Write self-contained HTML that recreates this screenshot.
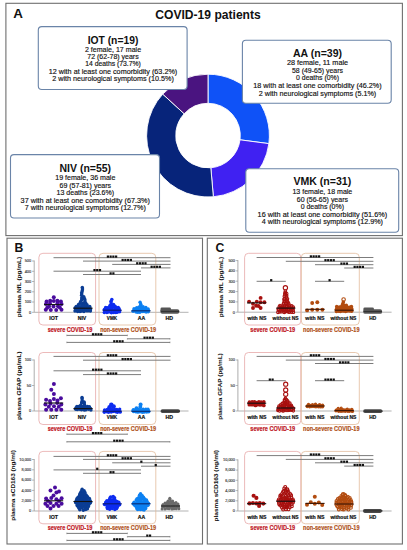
<!DOCTYPE html>
<html><head><meta charset="utf-8"><style>
html,body{margin:0;padding:0;background:#fff;}
svg{display:block;font-family:"Liberation Sans", sans-serif;}
</style></head><body>
<svg width="407" height="550" viewBox="0 0 407 550">
<rect width="407" height="550" fill="#fff"/>
<rect x="5.9" y="3.3" width="396.5" height="232.3" rx="0" fill="none" stroke="#6f6f6f" stroke-width="1.1"/>
<rect x="7" y="238.2" width="195.5" height="305.8" rx="0" fill="none" stroke="#6f6f6f" stroke-width="1.1"/>
<rect x="207.3" y="238.2" width="195.1" height="305.8" rx="0" fill="none" stroke="#6f6f6f" stroke-width="1.1"/>
<text x="13.2" y="18.1" font-size="13.4" font-weight="bold" fill="#111" text-anchor="start">A</text>
<text x="14.5" y="251.6" font-size="12.2" font-weight="bold" fill="#111" text-anchor="start">B</text>
<text x="215.6" y="251.8" font-size="12.2" font-weight="bold" fill="#111" text-anchor="start">C</text>
<path d="M208,74.2 A61.4,61.4 0 0 1 268.87,143.61 L240.02,139.82 A32.3,32.3 0 0 0 208,103.3 Z" fill="#0f52f7" stroke="#fff" stroke-width="0.9"/>
<path d="M268.87,143.61 A61.4,61.4 0 0 1 213.35,196.77 L210.82,167.78 A32.3,32.3 0 0 0 240.02,139.82 Z" fill="#4021f2" stroke="#fff" stroke-width="0.9"/>
<path d="M213.35,196.77 A61.4,61.4 0 0 1 162.73,94.12 L184.19,113.78 A32.3,32.3 0 0 0 210.82,167.78 Z" fill="#07247a" stroke="#fff" stroke-width="0.9"/>
<path d="M162.73,94.12 A61.4,61.4 0 0 1 208,74.2 L208,103.3 A32.3,32.3 0 0 0 184.19,113.78 Z" fill="#4a1480" stroke="#fff" stroke-width="0.9"/>
<text x="208" y="19.4" font-size="12.3" font-weight="bold" fill="#111" text-anchor="middle" textLength="105.5" lengthAdjust="spacingAndGlyphs">COVID-19 patients</text>
<rect x="38.3" y="26.6" width="148.8" height="62.9" rx="3.5" fill="#fff" stroke="#6a84a8" stroke-width="1.1"/>
<text x="113" y="43.8" font-size="10" font-weight="bold" fill="#111" text-anchor="middle" textLength="50.7" lengthAdjust="spacingAndGlyphs">IOT (n=19)</text>
<text x="113" y="51.5" font-size="8.1" font-weight="normal" fill="#111" text-anchor="middle" textLength="56.2" lengthAdjust="spacingAndGlyphs" stroke="#111" stroke-width="0.17">2 female, 17 male</text>
<text x="113" y="58.9" font-size="8.1" font-weight="normal" fill="#111" text-anchor="middle" textLength="51.4" lengthAdjust="spacingAndGlyphs" stroke="#111" stroke-width="0.17">72 (62-78) years</text>
<text x="113" y="65.9" font-size="8.1" font-weight="normal" fill="#111" text-anchor="middle" textLength="55.6" lengthAdjust="spacingAndGlyphs" stroke="#111" stroke-width="0.17">14 deaths (73.7%)</text>
<text x="113" y="73.6" font-size="8.1" font-weight="normal" fill="#111" text-anchor="middle" textLength="128.5" lengthAdjust="spacingAndGlyphs" stroke="#111" stroke-width="0.17">12 with at least one comorbidity (63.2%)</text>
<text x="113" y="81" font-size="8.1" font-weight="normal" fill="#111" text-anchor="middle" textLength="121.6" lengthAdjust="spacingAndGlyphs" stroke="#111" stroke-width="0.17">2 with neurological symptoms (10.5%)</text>
<rect x="242.4" y="40.3" width="148.8" height="62.9" rx="3.5" fill="#fff" stroke="#6a84a8" stroke-width="1.1"/>
<text x="317.5" y="56.9" font-size="10" font-weight="bold" fill="#111" text-anchor="middle" textLength="49" lengthAdjust="spacingAndGlyphs">AA (n=39)</text>
<text x="317.5" y="64.9" font-size="8.1" font-weight="normal" fill="#111" text-anchor="middle" textLength="61.2" lengthAdjust="spacingAndGlyphs" stroke="#111" stroke-width="0.17">28 female, 11 male</text>
<text x="317.5" y="72.7" font-size="8.1" font-weight="normal" fill="#111" text-anchor="middle" textLength="51" lengthAdjust="spacingAndGlyphs" stroke="#111" stroke-width="0.17">58 (49-65) years</text>
<text x="317.5" y="80.1" font-size="8.1" font-weight="normal" fill="#111" text-anchor="middle" textLength="42.9" lengthAdjust="spacingAndGlyphs" stroke="#111" stroke-width="0.17">0 deaths (0%)</text>
<text x="317.5" y="87.9" font-size="8.1" font-weight="normal" fill="#111" text-anchor="middle" textLength="128.4" lengthAdjust="spacingAndGlyphs" stroke="#111" stroke-width="0.17">18 with at least one comorbidity (46.2%)</text>
<text x="317.5" y="95.6" font-size="8.1" font-weight="normal" fill="#111" text-anchor="middle" textLength="117.5" lengthAdjust="spacingAndGlyphs" stroke="#111" stroke-width="0.17">2 with neurological symptoms (5.1%)</text>
<rect x="10.5" y="154.6" width="149" height="63.4" rx="3.5" fill="#fff" stroke="#6a84a8" stroke-width="1.1"/>
<text x="85.3" y="171.7" font-size="10" font-weight="bold" fill="#111" text-anchor="middle" textLength="51.6" lengthAdjust="spacingAndGlyphs">NIV (n=55)</text>
<text x="85.3" y="179.8" font-size="8.1" font-weight="normal" fill="#111" text-anchor="middle" textLength="60.2" lengthAdjust="spacingAndGlyphs" stroke="#111" stroke-width="0.17">19 female, 36 male</text>
<text x="85.3" y="187.5" font-size="8.1" font-weight="normal" fill="#111" text-anchor="middle" textLength="51.6" lengthAdjust="spacingAndGlyphs" stroke="#111" stroke-width="0.17">69 (57-81) years</text>
<text x="85.3" y="195" font-size="8.1" font-weight="normal" fill="#111" text-anchor="middle" textLength="57.4" lengthAdjust="spacingAndGlyphs" stroke="#111" stroke-width="0.17">13 deaths (23.6%)</text>
<text x="85.3" y="202.8" font-size="8.1" font-weight="normal" fill="#111" text-anchor="middle" textLength="129.4" lengthAdjust="spacingAndGlyphs" stroke="#111" stroke-width="0.17">37 with at least one comorbidity (67.3%)</text>
<text x="85.3" y="210.2" font-size="8.1" font-weight="normal" fill="#111" text-anchor="middle" textLength="121.1" lengthAdjust="spacingAndGlyphs" stroke="#111" stroke-width="0.17">7 with neurological symptoms (12.7%)</text>
<rect x="245.8" y="168.8" width="152.9" height="63.5" rx="3.5" fill="#fff" stroke="#6a84a8" stroke-width="1.1"/>
<text x="322.35" y="185.3" font-size="10" font-weight="bold" fill="#111" text-anchor="middle" textLength="57.8" lengthAdjust="spacingAndGlyphs">VMK (n=31)</text>
<text x="322.35" y="193.9" font-size="8.1" font-weight="normal" fill="#111" text-anchor="middle" textLength="59.9" lengthAdjust="spacingAndGlyphs" stroke="#111" stroke-width="0.17">13 female, 18 male</text>
<text x="322.35" y="201.6" font-size="8.1" font-weight="normal" fill="#111" text-anchor="middle" textLength="51.2" lengthAdjust="spacingAndGlyphs" stroke="#111" stroke-width="0.17">60 (56-65) years</text>
<text x="322.35" y="209" font-size="8.1" font-weight="normal" fill="#111" text-anchor="middle" textLength="43.3" lengthAdjust="spacingAndGlyphs" stroke="#111" stroke-width="0.17">0 deaths (0%)</text>
<text x="322.35" y="216.7" font-size="8.1" font-weight="normal" fill="#111" text-anchor="middle" textLength="129.5" lengthAdjust="spacingAndGlyphs" stroke="#111" stroke-width="0.17">16 with at least one comorbidity (51.6%)</text>
<text x="322.35" y="224.1" font-size="8.1" font-weight="normal" fill="#111" text-anchor="middle" textLength="121.2" lengthAdjust="spacingAndGlyphs" stroke="#111" stroke-width="0.17">4 with neurological symptoms (12.9%)</text>
<text x="0" y="0" font-size="6.0" font-weight="bold" fill="#111" stroke="#111" stroke-width="0.05" text-anchor="middle" textLength="60.5" lengthAdjust="spacingAndGlyphs" transform="translate(21.3,287) rotate(-90)">plasma NfL (pg/mL)</text>
<line x1="34.2" y1="260.5" x2="34.2" y2="312.3" stroke="#8a8a8a" stroke-width="0.7"/>
<line x1="34.2" y1="312.3" x2="188.5" y2="312.3" stroke="#aaaaaa" stroke-width="0.9"/>
<line x1="32" y1="261" x2="34.2" y2="261" stroke="#8a8a8a" stroke-width="0.6"/>
<text x="31.2" y="262.35" font-size="3.9" font-weight="normal" fill="#3a3a3a" text-anchor="end" stroke="#3a3a3a" stroke-width="0.14">500</text>
<line x1="32" y1="271.3" x2="34.2" y2="271.3" stroke="#8a8a8a" stroke-width="0.6"/>
<text x="31.2" y="272.65" font-size="3.9" font-weight="normal" fill="#3a3a3a" text-anchor="end" stroke="#3a3a3a" stroke-width="0.14">400</text>
<line x1="32" y1="281.5" x2="34.2" y2="281.5" stroke="#8a8a8a" stroke-width="0.6"/>
<text x="31.2" y="282.85" font-size="3.9" font-weight="normal" fill="#3a3a3a" text-anchor="end" stroke="#3a3a3a" stroke-width="0.14">300</text>
<line x1="32" y1="291.8" x2="34.2" y2="291.8" stroke="#8a8a8a" stroke-width="0.6"/>
<text x="31.2" y="293.15" font-size="3.9" font-weight="normal" fill="#3a3a3a" text-anchor="end" stroke="#3a3a3a" stroke-width="0.14">200</text>
<line x1="32" y1="302" x2="34.2" y2="302" stroke="#8a8a8a" stroke-width="0.6"/>
<text x="31.2" y="303.35" font-size="3.9" font-weight="normal" fill="#3a3a3a" text-anchor="end" stroke="#3a3a3a" stroke-width="0.14">100</text>
<line x1="32" y1="312.3" x2="34.2" y2="312.3" stroke="#8a8a8a" stroke-width="0.6"/>
<text x="31.2" y="313.65" font-size="3.9" font-weight="normal" fill="#3a3a3a" text-anchor="end" stroke="#3a3a3a" stroke-width="0.14">0</text>
<text x="0" y="0" font-size="6.0" font-weight="bold" fill="#111" stroke="#111" stroke-width="0.05" text-anchor="middle" textLength="68.5" lengthAdjust="spacingAndGlyphs" transform="translate(21.2,385.8) rotate(-90)">plasma GFAP (pg/mL)</text>
<line x1="34.2" y1="359.5" x2="34.2" y2="411" stroke="#8a8a8a" stroke-width="0.7"/>
<line x1="34.2" y1="411" x2="188.5" y2="411" stroke="#aaaaaa" stroke-width="0.9"/>
<line x1="32" y1="360" x2="34.2" y2="360" stroke="#8a8a8a" stroke-width="0.6"/>
<text x="31.2" y="361.35" font-size="3.9" font-weight="normal" fill="#3a3a3a" text-anchor="end" stroke="#3a3a3a" stroke-width="0.14">100</text>
<line x1="32" y1="385.5" x2="34.2" y2="385.5" stroke="#8a8a8a" stroke-width="0.6"/>
<text x="31.2" y="386.85" font-size="3.9" font-weight="normal" fill="#3a3a3a" text-anchor="end" stroke="#3a3a3a" stroke-width="0.14">50</text>
<line x1="32" y1="411" x2="34.2" y2="411" stroke="#8a8a8a" stroke-width="0.6"/>
<text x="31.2" y="412.35" font-size="3.9" font-weight="normal" fill="#3a3a3a" text-anchor="end" stroke="#3a3a3a" stroke-width="0.14">0</text>
<text x="0" y="0" font-size="6.0" font-weight="bold" fill="#111" stroke="#111" stroke-width="0.05" text-anchor="middle" textLength="70.5" lengthAdjust="spacingAndGlyphs" transform="translate(14.6,485.4) rotate(-90)">plasma sCD163 (ng/ml)</text>
<line x1="34.2" y1="459" x2="34.2" y2="511" stroke="#8a8a8a" stroke-width="0.7"/>
<line x1="34.2" y1="511" x2="188.5" y2="511" stroke="#aaaaaa" stroke-width="0.9"/>
<line x1="32" y1="459.5" x2="34.2" y2="459.5" stroke="#8a8a8a" stroke-width="0.6"/>
<text x="31.2" y="460.85" font-size="3.9" font-weight="normal" fill="#3a3a3a" text-anchor="end" stroke="#3a3a3a" stroke-width="0.14">10,000</text>
<line x1="32" y1="469.8" x2="34.2" y2="469.8" stroke="#8a8a8a" stroke-width="0.6"/>
<text x="31.2" y="471.15" font-size="3.9" font-weight="normal" fill="#3a3a3a" text-anchor="end" stroke="#3a3a3a" stroke-width="0.14">8,000</text>
<line x1="32" y1="480.1" x2="34.2" y2="480.1" stroke="#8a8a8a" stroke-width="0.6"/>
<text x="31.2" y="481.45" font-size="3.9" font-weight="normal" fill="#3a3a3a" text-anchor="end" stroke="#3a3a3a" stroke-width="0.14">6,000</text>
<line x1="32" y1="490.4" x2="34.2" y2="490.4" stroke="#8a8a8a" stroke-width="0.6"/>
<text x="31.2" y="491.75" font-size="3.9" font-weight="normal" fill="#3a3a3a" text-anchor="end" stroke="#3a3a3a" stroke-width="0.14">4,000</text>
<line x1="32" y1="500.7" x2="34.2" y2="500.7" stroke="#8a8a8a" stroke-width="0.6"/>
<text x="31.2" y="502.05" font-size="3.9" font-weight="normal" fill="#3a3a3a" text-anchor="end" stroke="#3a3a3a" stroke-width="0.14">2,000</text>
<line x1="32" y1="511" x2="34.2" y2="511" stroke="#8a8a8a" stroke-width="0.6"/>
<text x="31.2" y="512.35" font-size="3.9" font-weight="normal" fill="#3a3a3a" text-anchor="end" stroke="#3a3a3a" stroke-width="0.14">0</text>
<rect x="38.9" y="253.3" width="56.7" height="71.7" rx="4" fill="none" stroke="#e6a3a3" stroke-width="0.75"/>
<rect x="99" y="253.3" width="56.8" height="71.7" rx="4" fill="none" stroke="#e0b795" stroke-width="0.75"/>
<text x="53.6" y="320.4" font-size="5.2" font-weight="bold" fill="#111" text-anchor="middle" textLength="8.8" lengthAdjust="spacingAndGlyphs" stroke="#111" stroke-width="0.2">IOT</text>
<text x="82" y="320.4" font-size="5.2" font-weight="bold" fill="#111" text-anchor="middle" textLength="8.6" lengthAdjust="spacingAndGlyphs" stroke="#111" stroke-width="0.2">NIV</text>
<text x="112" y="320.4" font-size="5.2" font-weight="bold" fill="#111" text-anchor="middle" textLength="10.3" lengthAdjust="spacingAndGlyphs" stroke="#111" stroke-width="0.2">VMK</text>
<text x="141.6" y="320.4" font-size="5.2" font-weight="bold" fill="#111" text-anchor="middle" textLength="7.5" lengthAdjust="spacingAndGlyphs" stroke="#111" stroke-width="0.2">AA</text>
<text x="169.2" y="320.4" font-size="5.2" font-weight="bold" fill="#111" text-anchor="middle" textLength="7.6" lengthAdjust="spacingAndGlyphs" stroke="#111" stroke-width="0.2">HD</text>
<text x="70" y="331.5" font-size="6.6" font-weight="bold" fill="#c0161e" text-anchor="middle" textLength="44.7" lengthAdjust="spacingAndGlyphs" stroke="#c0161e" stroke-width="0.2">severe COVID-19</text>
<text x="128.1" y="331.5" font-size="6.6" font-weight="bold" fill="#b0521a" text-anchor="middle" textLength="55.8" lengthAdjust="spacingAndGlyphs" stroke="#b0521a" stroke-width="0.2">non-severe COVID-19</text>
<rect x="38.9" y="352.5" width="56.7" height="72" rx="4" fill="none" stroke="#e6a3a3" stroke-width="0.75"/>
<rect x="99" y="352.5" width="56.8" height="72" rx="4" fill="none" stroke="#e0b795" stroke-width="0.75"/>
<text x="53.6" y="419.3" font-size="5.2" font-weight="bold" fill="#111" text-anchor="middle" textLength="8.8" lengthAdjust="spacingAndGlyphs" stroke="#111" stroke-width="0.2">IOT</text>
<text x="82" y="419.3" font-size="5.2" font-weight="bold" fill="#111" text-anchor="middle" textLength="8.6" lengthAdjust="spacingAndGlyphs" stroke="#111" stroke-width="0.2">NIV</text>
<text x="112" y="419.3" font-size="5.2" font-weight="bold" fill="#111" text-anchor="middle" textLength="10.3" lengthAdjust="spacingAndGlyphs" stroke="#111" stroke-width="0.2">VMK</text>
<text x="141.6" y="419.3" font-size="5.2" font-weight="bold" fill="#111" text-anchor="middle" textLength="7.5" lengthAdjust="spacingAndGlyphs" stroke="#111" stroke-width="0.2">AA</text>
<text x="169.2" y="419.3" font-size="5.2" font-weight="bold" fill="#111" text-anchor="middle" textLength="7.6" lengthAdjust="spacingAndGlyphs" stroke="#111" stroke-width="0.2">HD</text>
<text x="70" y="431" font-size="6.6" font-weight="bold" fill="#c0161e" text-anchor="middle" textLength="44.7" lengthAdjust="spacingAndGlyphs" stroke="#c0161e" stroke-width="0.2">severe COVID-19</text>
<text x="128.1" y="431" font-size="6.6" font-weight="bold" fill="#b0521a" text-anchor="middle" textLength="55.8" lengthAdjust="spacingAndGlyphs" stroke="#b0521a" stroke-width="0.2">non-severe COVID-19</text>
<rect x="38.9" y="451.4" width="56.7" height="72.4" rx="4" fill="none" stroke="#e6a3a3" stroke-width="0.75"/>
<rect x="99" y="451.4" width="56.8" height="72.4" rx="4" fill="none" stroke="#e0b795" stroke-width="0.75"/>
<text x="53.6" y="518.5" font-size="5.2" font-weight="bold" fill="#111" text-anchor="middle" textLength="8.8" lengthAdjust="spacingAndGlyphs" stroke="#111" stroke-width="0.2">IOT</text>
<text x="82" y="518.5" font-size="5.2" font-weight="bold" fill="#111" text-anchor="middle" textLength="8.6" lengthAdjust="spacingAndGlyphs" stroke="#111" stroke-width="0.2">NIV</text>
<text x="112" y="518.5" font-size="5.2" font-weight="bold" fill="#111" text-anchor="middle" textLength="10.3" lengthAdjust="spacingAndGlyphs" stroke="#111" stroke-width="0.2">VMK</text>
<text x="141.6" y="518.5" font-size="5.2" font-weight="bold" fill="#111" text-anchor="middle" textLength="7.5" lengthAdjust="spacingAndGlyphs" stroke="#111" stroke-width="0.2">AA</text>
<text x="169.2" y="518.5" font-size="5.2" font-weight="bold" fill="#111" text-anchor="middle" textLength="7.6" lengthAdjust="spacingAndGlyphs" stroke="#111" stroke-width="0.2">HD</text>
<text x="70" y="530.3" font-size="6.6" font-weight="bold" fill="#c0161e" text-anchor="middle" textLength="44.7" lengthAdjust="spacingAndGlyphs" stroke="#c0161e" stroke-width="0.2">severe COVID-19</text>
<text x="128.1" y="530.3" font-size="6.6" font-weight="bold" fill="#b0521a" text-anchor="middle" textLength="55.8" lengthAdjust="spacingAndGlyphs" stroke="#b0521a" stroke-width="0.2">non-severe COVID-19</text>
<line x1="53.5" y1="257.7" x2="170.5" y2="257.7" stroke="#7c7c7c" stroke-width="1"/>
<rect x="106.78" y="255.5" width="2.2" height="2.2" fill="#111"/>
<rect x="109.53" y="255.5" width="2.2" height="2.2" fill="#111"/>
<rect x="112.28" y="255.5" width="2.2" height="2.2" fill="#111"/>
<rect x="115.03" y="255.5" width="2.2" height="2.2" fill="#111"/>
<line x1="83" y1="261.1" x2="170.5" y2="261.1" stroke="#7c7c7c" stroke-width="1"/>
<rect x="121.53" y="258.9" width="2.2" height="2.2" fill="#111"/>
<rect x="124.28" y="258.9" width="2.2" height="2.2" fill="#111"/>
<rect x="127.03" y="258.9" width="2.2" height="2.2" fill="#111"/>
<rect x="129.78" y="258.9" width="2.2" height="2.2" fill="#111"/>
<line x1="112.2" y1="264.4" x2="170.5" y2="264.4" stroke="#7c7c7c" stroke-width="1"/>
<rect x="136.12" y="262.2" width="2.2" height="2.2" fill="#111"/>
<rect x="138.88" y="262.2" width="2.2" height="2.2" fill="#111"/>
<rect x="141.62" y="262.2" width="2.2" height="2.2" fill="#111"/>
<rect x="144.38" y="262.2" width="2.2" height="2.2" fill="#111"/>
<line x1="141" y1="267.9" x2="170.5" y2="267.9" stroke="#7c7c7c" stroke-width="1"/>
<rect x="150.53" y="265.7" width="2.2" height="2.2" fill="#111"/>
<rect x="153.28" y="265.7" width="2.2" height="2.2" fill="#111"/>
<rect x="156.03" y="265.7" width="2.2" height="2.2" fill="#111"/>
<rect x="158.78" y="265.7" width="2.2" height="2.2" fill="#111"/>
<line x1="53.5" y1="271.2" x2="141" y2="271.2" stroke="#7c7c7c" stroke-width="1"/>
<rect x="93.4" y="269" width="2.2" height="2.2" fill="#111"/>
<rect x="96.15" y="269" width="2.2" height="2.2" fill="#111"/>
<rect x="98.9" y="269" width="2.2" height="2.2" fill="#111"/>
<line x1="83" y1="274.5" x2="141" y2="274.5" stroke="#7c7c7c" stroke-width="1"/>
<rect x="109.53" y="272.3" width="2.2" height="2.2" fill="#111"/>
<rect x="112.28" y="272.3" width="2.2" height="2.2" fill="#111"/>
<line x1="66.8" y1="335.4" x2="127.4" y2="335.4" stroke="#7c7c7c" stroke-width="1"/>
<line x1="66.8" y1="334.6" x2="66.8" y2="336.2" stroke="#7c7c7c" stroke-width="0.6"/>
<line x1="127.4" y1="334.6" x2="127.4" y2="336.2" stroke="#7c7c7c" stroke-width="0.6"/>
<rect x="91.88" y="333.2" width="2.2" height="2.2" fill="#111"/>
<rect x="94.62" y="333.2" width="2.2" height="2.2" fill="#111"/>
<rect x="97.38" y="333.2" width="2.2" height="2.2" fill="#111"/>
<rect x="100.12" y="333.2" width="2.2" height="2.2" fill="#111"/>
<line x1="127.4" y1="338.8" x2="170" y2="338.8" stroke="#7c7c7c" stroke-width="1"/>
<line x1="127.4" y1="338" x2="127.4" y2="339.6" stroke="#7c7c7c" stroke-width="0.6"/>
<line x1="170" y1="338" x2="170" y2="339.6" stroke="#7c7c7c" stroke-width="0.6"/>
<rect x="143.47" y="336.6" width="2.2" height="2.2" fill="#111"/>
<rect x="146.22" y="336.6" width="2.2" height="2.2" fill="#111"/>
<rect x="148.97" y="336.6" width="2.2" height="2.2" fill="#111"/>
<rect x="151.72" y="336.6" width="2.2" height="2.2" fill="#111"/>
<line x1="66.8" y1="342.4" x2="170" y2="342.4" stroke="#7c7c7c" stroke-width="1"/>
<line x1="66.8" y1="341.6" x2="66.8" y2="343.2" stroke="#7c7c7c" stroke-width="0.6"/>
<line x1="170" y1="341.6" x2="170" y2="343.2" stroke="#7c7c7c" stroke-width="0.6"/>
<rect x="113.18" y="340.2" width="2.2" height="2.2" fill="#111"/>
<rect x="115.93" y="340.2" width="2.2" height="2.2" fill="#111"/>
<rect x="118.68" y="340.2" width="2.2" height="2.2" fill="#111"/>
<rect x="121.43" y="340.2" width="2.2" height="2.2" fill="#111"/>
<line x1="53.5" y1="356.4" x2="170.5" y2="356.4" stroke="#7c7c7c" stroke-width="1"/>
<rect x="106.78" y="354.2" width="2.2" height="2.2" fill="#111"/>
<rect x="109.53" y="354.2" width="2.2" height="2.2" fill="#111"/>
<rect x="112.28" y="354.2" width="2.2" height="2.2" fill="#111"/>
<rect x="115.03" y="354.2" width="2.2" height="2.2" fill="#111"/>
<line x1="83" y1="360.2" x2="170.5" y2="360.2" stroke="#7c7c7c" stroke-width="1"/>
<rect x="121.53" y="358" width="2.2" height="2.2" fill="#111"/>
<rect x="124.28" y="358" width="2.2" height="2.2" fill="#111"/>
<rect x="127.03" y="358" width="2.2" height="2.2" fill="#111"/>
<rect x="129.78" y="358" width="2.2" height="2.2" fill="#111"/>
<line x1="53.5" y1="370.8" x2="141" y2="370.8" stroke="#7c7c7c" stroke-width="1"/>
<rect x="92.03" y="368.6" width="2.2" height="2.2" fill="#111"/>
<rect x="94.78" y="368.6" width="2.2" height="2.2" fill="#111"/>
<rect x="97.53" y="368.6" width="2.2" height="2.2" fill="#111"/>
<rect x="100.28" y="368.6" width="2.2" height="2.2" fill="#111"/>
<line x1="83" y1="374.6" x2="141" y2="374.6" stroke="#7c7c7c" stroke-width="1"/>
<rect x="106.78" y="372.4" width="2.2" height="2.2" fill="#111"/>
<rect x="109.53" y="372.4" width="2.2" height="2.2" fill="#111"/>
<rect x="112.28" y="372.4" width="2.2" height="2.2" fill="#111"/>
<rect x="115.03" y="372.4" width="2.2" height="2.2" fill="#111"/>
<line x1="66.8" y1="434.2" x2="127.4" y2="434.2" stroke="#7c7c7c" stroke-width="1"/>
<line x1="66.8" y1="433.4" x2="66.8" y2="435" stroke="#7c7c7c" stroke-width="0.6"/>
<line x1="127.4" y1="433.4" x2="127.4" y2="435" stroke="#7c7c7c" stroke-width="0.6"/>
<rect x="91.88" y="432" width="2.2" height="2.2" fill="#111"/>
<rect x="94.62" y="432" width="2.2" height="2.2" fill="#111"/>
<rect x="97.38" y="432" width="2.2" height="2.2" fill="#111"/>
<rect x="100.12" y="432" width="2.2" height="2.2" fill="#111"/>
<line x1="66.8" y1="441.8" x2="170" y2="441.8" stroke="#7c7c7c" stroke-width="1"/>
<line x1="66.8" y1="441" x2="66.8" y2="442.6" stroke="#7c7c7c" stroke-width="0.6"/>
<line x1="170" y1="441" x2="170" y2="442.6" stroke="#7c7c7c" stroke-width="0.6"/>
<rect x="113.18" y="439.6" width="2.2" height="2.2" fill="#111"/>
<rect x="115.93" y="439.6" width="2.2" height="2.2" fill="#111"/>
<rect x="118.68" y="439.6" width="2.2" height="2.2" fill="#111"/>
<rect x="121.43" y="439.6" width="2.2" height="2.2" fill="#111"/>
<line x1="53.5" y1="456.4" x2="170.5" y2="456.4" stroke="#7c7c7c" stroke-width="1"/>
<rect x="106.78" y="454.2" width="2.2" height="2.2" fill="#111"/>
<rect x="109.53" y="454.2" width="2.2" height="2.2" fill="#111"/>
<rect x="112.28" y="454.2" width="2.2" height="2.2" fill="#111"/>
<rect x="115.03" y="454.2" width="2.2" height="2.2" fill="#111"/>
<line x1="83" y1="459.4" x2="170.5" y2="459.4" stroke="#7c7c7c" stroke-width="1"/>
<rect x="121.53" y="457.2" width="2.2" height="2.2" fill="#111"/>
<rect x="124.28" y="457.2" width="2.2" height="2.2" fill="#111"/>
<rect x="127.03" y="457.2" width="2.2" height="2.2" fill="#111"/>
<rect x="129.78" y="457.2" width="2.2" height="2.2" fill="#111"/>
<line x1="112.2" y1="462.8" x2="170.5" y2="462.8" stroke="#7c7c7c" stroke-width="1"/>
<rect x="140.25" y="460.6" width="2.2" height="2.2" fill="#111"/>
<line x1="141" y1="466.2" x2="170.5" y2="466.2" stroke="#7c7c7c" stroke-width="1"/>
<rect x="154.65" y="464" width="2.2" height="2.2" fill="#111"/>
<line x1="53.5" y1="469.9" x2="141" y2="469.9" stroke="#7c7c7c" stroke-width="1"/>
<rect x="96.15" y="467.7" width="2.2" height="2.2" fill="#111"/>
<line x1="83" y1="473.3" x2="141" y2="473.3" stroke="#7c7c7c" stroke-width="1"/>
<rect x="109.53" y="471.1" width="2.2" height="2.2" fill="#111"/>
<rect x="112.28" y="471.1" width="2.2" height="2.2" fill="#111"/>
<line x1="66.8" y1="533.4" x2="127.4" y2="533.4" stroke="#7c7c7c" stroke-width="1"/>
<line x1="66.8" y1="532.6" x2="66.8" y2="534.2" stroke="#7c7c7c" stroke-width="0.6"/>
<line x1="127.4" y1="532.6" x2="127.4" y2="534.2" stroke="#7c7c7c" stroke-width="0.6"/>
<rect x="91.88" y="531.2" width="2.2" height="2.2" fill="#111"/>
<rect x="94.62" y="531.2" width="2.2" height="2.2" fill="#111"/>
<rect x="97.38" y="531.2" width="2.2" height="2.2" fill="#111"/>
<rect x="100.12" y="531.2" width="2.2" height="2.2" fill="#111"/>
<line x1="127.4" y1="536.7" x2="170" y2="536.7" stroke="#7c7c7c" stroke-width="1"/>
<line x1="127.4" y1="535.9" x2="127.4" y2="537.5" stroke="#7c7c7c" stroke-width="0.6"/>
<line x1="170" y1="535.9" x2="170" y2="537.5" stroke="#7c7c7c" stroke-width="0.6"/>
<rect x="146.22" y="534.5" width="2.2" height="2.2" fill="#111"/>
<rect x="148.97" y="534.5" width="2.2" height="2.2" fill="#111"/>
<line x1="66.8" y1="540.4" x2="170" y2="540.4" stroke="#7c7c7c" stroke-width="1"/>
<line x1="66.8" y1="539.6" x2="66.8" y2="541.2" stroke="#7c7c7c" stroke-width="0.6"/>
<line x1="170" y1="539.6" x2="170" y2="541.2" stroke="#7c7c7c" stroke-width="0.6"/>
<rect x="113.18" y="538.2" width="2.2" height="2.2" fill="#111"/>
<rect x="115.93" y="538.2" width="2.2" height="2.2" fill="#111"/>
<rect x="118.68" y="538.2" width="2.2" height="2.2" fill="#111"/>
<rect x="121.43" y="538.2" width="2.2" height="2.2" fill="#111"/>
<circle cx="53.8" cy="297.3" r="2" fill="#4a0c9e"/>
<circle cx="46.6" cy="301.4" r="2" fill="#4a0c9e"/>
<circle cx="50.2" cy="300.8" r="2" fill="#4a0c9e"/>
<circle cx="53.8" cy="301" r="2" fill="#4a0c9e"/>
<circle cx="57.4" cy="300.8" r="2" fill="#4a0c9e"/>
<circle cx="60.9" cy="301.6" r="2" fill="#4a0c9e"/>
<circle cx="46" cy="304" r="2" fill="#4a0c9e"/>
<circle cx="61.5" cy="304" r="2" fill="#4a0c9e"/>
<circle cx="50" cy="303.5" r="2" fill="#4a0c9e"/>
<circle cx="57.5" cy="303.3" r="2" fill="#4a0c9e"/>
<circle cx="49" cy="306.4" r="2" fill="#4a0c9e"/>
<circle cx="53.5" cy="306.6" r="2" fill="#4a0c9e"/>
<circle cx="58" cy="306.2" r="2" fill="#4a0c9e"/>
<circle cx="45.8" cy="309.7" r="2" fill="#4a0c9e"/>
<circle cx="50.8" cy="309.9" r="2" fill="#4a0c9e"/>
<circle cx="56.2" cy="309.9" r="2" fill="#4a0c9e"/>
<circle cx="61.5" cy="309.7" r="2" fill="#4a0c9e"/>
<circle cx="47.2" cy="307.8" r="2" fill="#4a0c9e"/>
<circle cx="59.8" cy="307.6" r="2" fill="#4a0c9e"/>
<line x1="44" y1="304.6" x2="63.2" y2="304.6" stroke="#111" stroke-width="1.1"/>
<circle cx="82.29" cy="287.49" r="1.75" fill="#0b3d94"/>
<circle cx="82.48" cy="288.97" r="1.75" fill="#0b3d94"/>
<circle cx="82.26" cy="290.78" r="1.75" fill="#0b3d94"/>
<circle cx="81.74" cy="292.46" r="1.75" fill="#0b3d94"/>
<circle cx="81.68" cy="293.94" r="1.75" fill="#0b3d94"/>
<circle cx="81.67" cy="295.18" r="1.75" fill="#0b3d94"/>
<circle cx="81.84" cy="297.39" r="1.75" fill="#0b3d94"/>
<circle cx="83.76" cy="296.85" r="1.75" fill="#0b3d94"/>
<circle cx="81.81" cy="299.05" r="1.75" fill="#0b3d94"/>
<circle cx="84.37" cy="298.56" r="1.75" fill="#0b3d94"/>
<circle cx="81.8" cy="299.79" r="1.75" fill="#0b3d94"/>
<circle cx="84.95" cy="300.01" r="1.75" fill="#0b3d94"/>
<circle cx="80.69" cy="301.41" r="1.75" fill="#0b3d94"/>
<circle cx="84.82" cy="302.03" r="1.75" fill="#0b3d94"/>
<circle cx="80.04" cy="303.37" r="1.75" fill="#0b3d94"/>
<circle cx="83.13" cy="303.19" r="1.75" fill="#0b3d94"/>
<circle cx="85.72" cy="302.91" r="1.75" fill="#0b3d94"/>
<circle cx="78.54" cy="304.59" r="1.75" fill="#0b3d94"/>
<circle cx="81.81" cy="304.78" r="1.75" fill="#0b3d94"/>
<circle cx="84.19" cy="304.93" r="1.75" fill="#0b3d94"/>
<circle cx="87.02" cy="304.67" r="1.75" fill="#0b3d94"/>
<circle cx="76.23" cy="306.58" r="1.75" fill="#0b3d94"/>
<circle cx="78.08" cy="306.47" r="1.75" fill="#0b3d94"/>
<circle cx="80.68" cy="306.74" r="1.75" fill="#0b3d94"/>
<circle cx="83.21" cy="306.21" r="1.75" fill="#0b3d94"/>
<circle cx="85.78" cy="306.06" r="1.75" fill="#0b3d94"/>
<circle cx="87.61" cy="306.63" r="1.75" fill="#0b3d94"/>
<circle cx="89.72" cy="306.39" r="1.75" fill="#0b3d94"/>
<circle cx="75.1" cy="308.1" r="1.75" fill="#0b3d94"/>
<circle cx="77.89" cy="308.02" r="1.75" fill="#0b3d94"/>
<circle cx="80.13" cy="307.78" r="1.75" fill="#0b3d94"/>
<circle cx="82.11" cy="308.03" r="1.75" fill="#0b3d94"/>
<circle cx="84.14" cy="307.91" r="1.75" fill="#0b3d94"/>
<circle cx="86.51" cy="308.35" r="1.75" fill="#0b3d94"/>
<circle cx="88.32" cy="308.1" r="1.75" fill="#0b3d94"/>
<circle cx="90.09" cy="308.13" r="1.75" fill="#0b3d94"/>
<circle cx="75.59" cy="309.94" r="1.75" fill="#0b3d94"/>
<circle cx="77.9" cy="309.31" r="1.75" fill="#0b3d94"/>
<circle cx="79.66" cy="309.65" r="1.75" fill="#0b3d94"/>
<circle cx="81.49" cy="309.47" r="1.75" fill="#0b3d94"/>
<circle cx="83.78" cy="309.16" r="1.75" fill="#0b3d94"/>
<circle cx="85.84" cy="309.74" r="1.75" fill="#0b3d94"/>
<circle cx="88.06" cy="309.27" r="1.75" fill="#0b3d94"/>
<circle cx="90.45" cy="309.83" r="1.75" fill="#0b3d94"/>
<circle cx="75.02" cy="311" r="1.75" fill="#0b3d94"/>
<circle cx="77.61" cy="311.4" r="1.75" fill="#0b3d94"/>
<circle cx="80.03" cy="311.38" r="1.75" fill="#0b3d94"/>
<circle cx="81.71" cy="310.97" r="1.75" fill="#0b3d94"/>
<circle cx="83.96" cy="311.4" r="1.75" fill="#0b3d94"/>
<circle cx="86.67" cy="310.74" r="1.75" fill="#0b3d94"/>
<circle cx="88.14" cy="310.81" r="1.75" fill="#0b3d94"/>
<circle cx="90.36" cy="311.04" r="1.75" fill="#0b3d94"/>
<line x1="73.4" y1="308.2" x2="92.6" y2="308.2" stroke="#111" stroke-width="1.1"/>
<circle cx="111.84" cy="299.56" r="1.75" fill="#0d2cf0"/>
<circle cx="111.02" cy="301.27" r="1.75" fill="#0d2cf0"/>
<circle cx="111.12" cy="302.97" r="1.75" fill="#0d2cf0"/>
<circle cx="111.34" cy="304.64" r="1.75" fill="#0d2cf0"/>
<circle cx="113.53" cy="304.57" r="1.75" fill="#0d2cf0"/>
<circle cx="110" cy="305.55" r="1.75" fill="#0d2cf0"/>
<circle cx="112.6" cy="306.28" r="1.75" fill="#0d2cf0"/>
<circle cx="114.95" cy="306.3" r="1.75" fill="#0d2cf0"/>
<circle cx="105.65" cy="307.45" r="1.75" fill="#0d2cf0"/>
<circle cx="107.51" cy="307.68" r="1.75" fill="#0d2cf0"/>
<circle cx="109.61" cy="307.12" r="1.75" fill="#0d2cf0"/>
<circle cx="111.91" cy="307.21" r="1.75" fill="#0d2cf0"/>
<circle cx="114.19" cy="307.1" r="1.75" fill="#0d2cf0"/>
<circle cx="116" cy="307.2" r="1.75" fill="#0d2cf0"/>
<circle cx="118.25" cy="307.41" r="1.75" fill="#0d2cf0"/>
<circle cx="104.39" cy="309.47" r="1.75" fill="#0d2cf0"/>
<circle cx="107.42" cy="308.75" r="1.75" fill="#0d2cf0"/>
<circle cx="109.51" cy="308.95" r="1.75" fill="#0d2cf0"/>
<circle cx="112.06" cy="308.72" r="1.75" fill="#0d2cf0"/>
<circle cx="114.99" cy="309.59" r="1.75" fill="#0d2cf0"/>
<circle cx="117.06" cy="309.08" r="1.75" fill="#0d2cf0"/>
<circle cx="119.12" cy="308.7" r="1.75" fill="#0d2cf0"/>
<circle cx="104.6" cy="310.41" r="1.75" fill="#0d2cf0"/>
<circle cx="107.21" cy="310.31" r="1.75" fill="#0d2cf0"/>
<circle cx="108.53" cy="311.1" r="1.75" fill="#0d2cf0"/>
<circle cx="111.17" cy="310.3" r="1.75" fill="#0d2cf0"/>
<circle cx="113.31" cy="310.18" r="1.75" fill="#0d2cf0"/>
<circle cx="115.42" cy="311.13" r="1.75" fill="#0d2cf0"/>
<circle cx="117.88" cy="310.85" r="1.75" fill="#0d2cf0"/>
<circle cx="119.4" cy="310.52" r="1.75" fill="#0d2cf0"/>
<circle cx="104.32" cy="312.47" r="1.75" fill="#0d2cf0"/>
<circle cx="106.84" cy="312.48" r="1.75" fill="#0d2cf0"/>
<circle cx="108.8" cy="311.92" r="1.75" fill="#0d2cf0"/>
<circle cx="111.43" cy="312.68" r="1.75" fill="#0d2cf0"/>
<circle cx="113.63" cy="312.51" r="1.75" fill="#0d2cf0"/>
<circle cx="115.75" cy="312.44" r="1.75" fill="#0d2cf0"/>
<circle cx="117.31" cy="312.22" r="1.75" fill="#0d2cf0"/>
<circle cx="119.6" cy="311.73" r="1.75" fill="#0d2cf0"/>
<line x1="102.6" y1="310.2" x2="121.8" y2="310.2" stroke="#0a1a70" stroke-width="1.1"/>
<circle cx="140.08" cy="302.28" r="1.75" fill="#0c80f2"/>
<circle cx="140.76" cy="304.24" r="1.75" fill="#0c80f2"/>
<circle cx="140.75" cy="305.55" r="1.75" fill="#0c80f2"/>
<circle cx="136.74" cy="307.64" r="1.75" fill="#0c80f2"/>
<circle cx="139.11" cy="307.01" r="1.75" fill="#0c80f2"/>
<circle cx="140.72" cy="306.88" r="1.75" fill="#0c80f2"/>
<circle cx="143.05" cy="306.85" r="1.75" fill="#0c80f2"/>
<circle cx="145.82" cy="307.55" r="1.75" fill="#0c80f2"/>
<circle cx="134.04" cy="308.68" r="1.75" fill="#0c80f2"/>
<circle cx="136.29" cy="309" r="1.75" fill="#0c80f2"/>
<circle cx="138.15" cy="308.86" r="1.75" fill="#0c80f2"/>
<circle cx="141.41" cy="308.98" r="1.75" fill="#0c80f2"/>
<circle cx="143.68" cy="308.68" r="1.75" fill="#0c80f2"/>
<circle cx="145.54" cy="308.99" r="1.75" fill="#0c80f2"/>
<circle cx="148.13" cy="309" r="1.75" fill="#0c80f2"/>
<circle cx="134.06" cy="310.15" r="1.75" fill="#0c80f2"/>
<circle cx="135.61" cy="310.7" r="1.75" fill="#0c80f2"/>
<circle cx="138.05" cy="309.92" r="1.75" fill="#0c80f2"/>
<circle cx="139.57" cy="309.9" r="1.75" fill="#0c80f2"/>
<circle cx="142.46" cy="310.56" r="1.75" fill="#0c80f2"/>
<circle cx="143.82" cy="310.58" r="1.75" fill="#0c80f2"/>
<circle cx="146.77" cy="310.41" r="1.75" fill="#0c80f2"/>
<circle cx="148.26" cy="310.3" r="1.75" fill="#0c80f2"/>
<circle cx="133.12" cy="311.31" r="1.75" fill="#0c80f2"/>
<circle cx="136.1" cy="311.95" r="1.75" fill="#0c80f2"/>
<circle cx="137.81" cy="312.23" r="1.75" fill="#0c80f2"/>
<circle cx="139.86" cy="312.17" r="1.75" fill="#0c80f2"/>
<circle cx="142.4" cy="311.51" r="1.75" fill="#0c80f2"/>
<circle cx="143.97" cy="311.59" r="1.75" fill="#0c80f2"/>
<circle cx="146.11" cy="311.89" r="1.75" fill="#0c80f2"/>
<circle cx="148.27" cy="311.72" r="1.75" fill="#0c80f2"/>
<line x1="131.4" y1="310.8" x2="150.6" y2="310.8" stroke="#0a2a70" stroke-width="1.1"/>
<rect x="160.5" y="307.6" width="10.5" height="4" rx="1.4" fill="#555"/>
<rect x="160.4" y="309.2" width="18.9" height="4.5" rx="1.9" fill="#555"/>
<line x1="160.8" y1="311.4" x2="179.2" y2="311.4" stroke="#2f2f2f" stroke-width="1"/>
<circle cx="53.9" cy="384.1" r="2" fill="#4a0c9e"/>
<circle cx="51.3" cy="389.7" r="2" fill="#4a0c9e"/>
<circle cx="53.9" cy="393.9" r="2" fill="#4a0c9e"/>
<circle cx="46.1" cy="399.8" r="2" fill="#4a0c9e"/>
<circle cx="53.9" cy="398.9" r="2" fill="#4a0c9e"/>
<circle cx="60.9" cy="398.3" r="2" fill="#4a0c9e"/>
<circle cx="45.4" cy="404.5" r="2" fill="#4a0c9e"/>
<circle cx="50.5" cy="403.8" r="2" fill="#4a0c9e"/>
<circle cx="57.2" cy="403" r="2" fill="#4a0c9e"/>
<circle cx="61.3" cy="404.5" r="2" fill="#4a0c9e"/>
<circle cx="46.1" cy="409.7" r="2" fill="#4a0c9e"/>
<circle cx="51.3" cy="409.7" r="2" fill="#4a0c9e"/>
<circle cx="56.4" cy="409.7" r="2" fill="#4a0c9e"/>
<circle cx="61.3" cy="409.7" r="2" fill="#4a0c9e"/>
<circle cx="48.8" cy="406.8" r="2" fill="#4a0c9e"/>
<circle cx="58.8" cy="406.8" r="2" fill="#4a0c9e"/>
<circle cx="54" cy="406.3" r="2" fill="#4a0c9e"/>
<circle cx="50" cy="401" r="2" fill="#4a0c9e"/>
<circle cx="57.5" cy="400.5" r="2" fill="#4a0c9e"/>
<line x1="44" y1="403" x2="63.2" y2="403" stroke="#111" stroke-width="1.1"/>
<circle cx="82.02" cy="397.57" r="1.75" fill="#0b3d94"/>
<circle cx="82.11" cy="398.71" r="1.75" fill="#0b3d94"/>
<circle cx="82.19" cy="400.66" r="1.75" fill="#0b3d94"/>
<circle cx="81.83" cy="402.23" r="1.75" fill="#0b3d94"/>
<circle cx="84.1" cy="401.88" r="1.75" fill="#0b3d94"/>
<circle cx="81.64" cy="402.97" r="1.75" fill="#0b3d94"/>
<circle cx="84.32" cy="403.11" r="1.75" fill="#0b3d94"/>
<circle cx="80.68" cy="405.22" r="1.75" fill="#0b3d94"/>
<circle cx="84.58" cy="404.93" r="1.75" fill="#0b3d94"/>
<circle cx="76.88" cy="406.55" r="1.75" fill="#0b3d94"/>
<circle cx="78.63" cy="406.52" r="1.75" fill="#0b3d94"/>
<circle cx="80.94" cy="406.76" r="1.75" fill="#0b3d94"/>
<circle cx="82.65" cy="406.55" r="1.75" fill="#0b3d94"/>
<circle cx="84.88" cy="406.3" r="1.75" fill="#0b3d94"/>
<circle cx="87.46" cy="406.51" r="1.75" fill="#0b3d94"/>
<circle cx="89.38" cy="406.73" r="1.75" fill="#0b3d94"/>
<circle cx="75.89" cy="408" r="1.75" fill="#0b3d94"/>
<circle cx="77.76" cy="408.05" r="1.75" fill="#0b3d94"/>
<circle cx="79.8" cy="408.22" r="1.75" fill="#0b3d94"/>
<circle cx="81.89" cy="408.08" r="1.75" fill="#0b3d94"/>
<circle cx="84.05" cy="408.45" r="1.75" fill="#0b3d94"/>
<circle cx="86.39" cy="408.39" r="1.75" fill="#0b3d94"/>
<circle cx="88.74" cy="407.83" r="1.75" fill="#0b3d94"/>
<circle cx="90.53" cy="408.45" r="1.75" fill="#0b3d94"/>
<circle cx="75.74" cy="409.27" r="1.75" fill="#0b3d94"/>
<circle cx="77.25" cy="409.55" r="1.75" fill="#0b3d94"/>
<circle cx="79.37" cy="409.37" r="1.75" fill="#0b3d94"/>
<circle cx="81.53" cy="409.75" r="1.75" fill="#0b3d94"/>
<circle cx="84.34" cy="409.96" r="1.75" fill="#0b3d94"/>
<circle cx="85.93" cy="409.79" r="1.75" fill="#0b3d94"/>
<circle cx="88.55" cy="409.28" r="1.75" fill="#0b3d94"/>
<circle cx="90.91" cy="410.02" r="1.75" fill="#0b3d94"/>
<line x1="73.4" y1="408.6" x2="92.6" y2="408.6" stroke="#111" stroke-width="1.1"/>
<circle cx="111.3" cy="404.9" r="2.3" fill="#0d2cf0"/>
<circle cx="113.6" cy="406.6" r="2.3" fill="#0d2cf0"/>
<circle cx="109.6" cy="407.3" r="2.3" fill="#0d2cf0"/>
<circle cx="104.68" cy="409.86" r="1.7" fill="#0d2cf0"/>
<circle cx="107.25" cy="409.49" r="1.7" fill="#0d2cf0"/>
<circle cx="110.16" cy="409.77" r="1.7" fill="#0d2cf0"/>
<circle cx="111.93" cy="409.45" r="1.7" fill="#0d2cf0"/>
<circle cx="114.65" cy="409.37" r="1.7" fill="#0d2cf0"/>
<circle cx="116.82" cy="409.35" r="1.7" fill="#0d2cf0"/>
<circle cx="119.68" cy="409.12" r="1.7" fill="#0d2cf0"/>
<circle cx="104.69" cy="410.65" r="1.7" fill="#0d2cf0"/>
<circle cx="106.42" cy="410.57" r="1.7" fill="#0d2cf0"/>
<circle cx="109.06" cy="410.71" r="1.7" fill="#0d2cf0"/>
<circle cx="110.77" cy="411.09" r="1.7" fill="#0d2cf0"/>
<circle cx="113.51" cy="411.08" r="1.7" fill="#0d2cf0"/>
<circle cx="115.12" cy="410.51" r="1.7" fill="#0d2cf0"/>
<circle cx="117.22" cy="410.92" r="1.7" fill="#0d2cf0"/>
<circle cx="119.57" cy="410.4" r="1.7" fill="#0d2cf0"/>
<circle cx="104.34" cy="412.23" r="1.7" fill="#0d2cf0"/>
<circle cx="106.88" cy="411.71" r="1.7" fill="#0d2cf0"/>
<circle cx="108.58" cy="412.24" r="1.7" fill="#0d2cf0"/>
<circle cx="111.14" cy="412.06" r="1.7" fill="#0d2cf0"/>
<circle cx="112.99" cy="411.55" r="1.7" fill="#0d2cf0"/>
<circle cx="115.69" cy="411.84" r="1.7" fill="#0d2cf0"/>
<circle cx="117.43" cy="412.25" r="1.7" fill="#0d2cf0"/>
<circle cx="120.11" cy="412.14" r="1.7" fill="#0d2cf0"/>
<line x1="102.6" y1="411.3" x2="121.8" y2="411.3" stroke="#0a1a70" stroke-width="1.1"/>
<circle cx="140.6" cy="404.6" r="2" fill="#0c80f2"/>
<circle cx="140.3" cy="407" r="2" fill="#0c80f2"/>
<circle cx="136.5" cy="408.3" r="2" fill="#0c80f2"/>
<circle cx="133.37" cy="409.78" r="1.7" fill="#0c80f2"/>
<circle cx="135.79" cy="409.79" r="1.7" fill="#0c80f2"/>
<circle cx="138.53" cy="409.37" r="1.7" fill="#0c80f2"/>
<circle cx="141.04" cy="409.84" r="1.7" fill="#0c80f2"/>
<circle cx="143.25" cy="409.2" r="1.7" fill="#0c80f2"/>
<circle cx="145.89" cy="409.29" r="1.7" fill="#0c80f2"/>
<circle cx="147.99" cy="409.23" r="1.7" fill="#0c80f2"/>
<circle cx="133.09" cy="410.46" r="1.7" fill="#0c80f2"/>
<circle cx="135.46" cy="410.54" r="1.7" fill="#0c80f2"/>
<circle cx="137.97" cy="410.53" r="1.7" fill="#0c80f2"/>
<circle cx="139.92" cy="410.44" r="1.7" fill="#0c80f2"/>
<circle cx="141.96" cy="410.31" r="1.7" fill="#0c80f2"/>
<circle cx="144.04" cy="410.31" r="1.7" fill="#0c80f2"/>
<circle cx="146.58" cy="410.74" r="1.7" fill="#0c80f2"/>
<circle cx="148.3" cy="410.68" r="1.7" fill="#0c80f2"/>
<circle cx="133.55" cy="411.59" r="1.7" fill="#0c80f2"/>
<circle cx="135.68" cy="411.85" r="1.7" fill="#0c80f2"/>
<circle cx="137.65" cy="412.17" r="1.7" fill="#0c80f2"/>
<circle cx="139.8" cy="411.91" r="1.7" fill="#0c80f2"/>
<circle cx="142.26" cy="412.29" r="1.7" fill="#0c80f2"/>
<circle cx="144.22" cy="412.17" r="1.7" fill="#0c80f2"/>
<circle cx="146.74" cy="412.01" r="1.7" fill="#0c80f2"/>
<circle cx="148.72" cy="411.78" r="1.7" fill="#0c80f2"/>
<line x1="131.4" y1="411.3" x2="150.6" y2="411.3" stroke="#0a2a70" stroke-width="1.1"/>
<rect x="160.6" y="409.2" width="19.4" height="3.9" rx="1.8" fill="#4a4a4a"/>
<line x1="161.3" y1="411.1" x2="179.7" y2="411.1" stroke="#2a2a2a" stroke-width="1"/>
<circle cx="55" cy="487.5" r="2" fill="#4a0c9e"/>
<circle cx="50.5" cy="490.5" r="2" fill="#4a0c9e"/>
<circle cx="56.4" cy="492.4" r="2" fill="#4a0c9e"/>
<circle cx="59" cy="491.5" r="2" fill="#4a0c9e"/>
<circle cx="46.1" cy="498.6" r="2" fill="#4a0c9e"/>
<circle cx="51.3" cy="497.9" r="2" fill="#4a0c9e"/>
<circle cx="56.4" cy="499.3" r="2" fill="#4a0c9e"/>
<circle cx="61.6" cy="498.3" r="2" fill="#4a0c9e"/>
<circle cx="53.5" cy="495.5" r="2" fill="#4a0c9e"/>
<circle cx="45.4" cy="503.8" r="2" fill="#4a0c9e"/>
<circle cx="50.5" cy="503" r="2" fill="#4a0c9e"/>
<circle cx="56.4" cy="503.8" r="2" fill="#4a0c9e"/>
<circle cx="61.6" cy="503.8" r="2" fill="#4a0c9e"/>
<circle cx="48" cy="501" r="2" fill="#4a0c9e"/>
<circle cx="59" cy="501" r="2" fill="#4a0c9e"/>
<circle cx="50.5" cy="508.6" r="2" fill="#4a0c9e"/>
<circle cx="53.5" cy="506" r="2" fill="#4a0c9e"/>
<circle cx="58.6" cy="506" r="2" fill="#4a0c9e"/>
<circle cx="47.5" cy="506" r="2" fill="#4a0c9e"/>
<line x1="44" y1="500.8" x2="63.2" y2="500.8" stroke="#111" stroke-width="1.1"/>
<circle cx="82.1" cy="489.23" r="1.75" fill="#0b3d94"/>
<circle cx="81.26" cy="491.39" r="1.75" fill="#0b3d94"/>
<circle cx="84.07" cy="490.81" r="1.75" fill="#0b3d94"/>
<circle cx="80.41" cy="493.04" r="1.75" fill="#0b3d94"/>
<circle cx="83.37" cy="492.87" r="1.75" fill="#0b3d94"/>
<circle cx="84.95" cy="492.44" r="1.75" fill="#0b3d94"/>
<circle cx="79.76" cy="494.21" r="1.75" fill="#0b3d94"/>
<circle cx="82.66" cy="494.2" r="1.75" fill="#0b3d94"/>
<circle cx="85.8" cy="494.71" r="1.75" fill="#0b3d94"/>
<circle cx="79.52" cy="495.85" r="1.75" fill="#0b3d94"/>
<circle cx="81.43" cy="496.27" r="1.75" fill="#0b3d94"/>
<circle cx="84.13" cy="495.66" r="1.75" fill="#0b3d94"/>
<circle cx="86.46" cy="495.68" r="1.75" fill="#0b3d94"/>
<circle cx="78.04" cy="497.35" r="1.75" fill="#0b3d94"/>
<circle cx="80.23" cy="497.35" r="1.75" fill="#0b3d94"/>
<circle cx="82.5" cy="497.11" r="1.75" fill="#0b3d94"/>
<circle cx="85.06" cy="497.25" r="1.75" fill="#0b3d94"/>
<circle cx="87.47" cy="496.87" r="1.75" fill="#0b3d94"/>
<circle cx="76.89" cy="498.63" r="1.75" fill="#0b3d94"/>
<circle cx="79.54" cy="498.93" r="1.75" fill="#0b3d94"/>
<circle cx="82.07" cy="499.06" r="1.75" fill="#0b3d94"/>
<circle cx="84.4" cy="499.28" r="1.75" fill="#0b3d94"/>
<circle cx="86.44" cy="498.73" r="1.75" fill="#0b3d94"/>
<circle cx="89.39" cy="498.55" r="1.75" fill="#0b3d94"/>
<circle cx="76.34" cy="500.59" r="1.75" fill="#0b3d94"/>
<circle cx="77.95" cy="500.79" r="1.75" fill="#0b3d94"/>
<circle cx="81.1" cy="500.58" r="1.75" fill="#0b3d94"/>
<circle cx="83.23" cy="500.76" r="1.75" fill="#0b3d94"/>
<circle cx="84.94" cy="500.47" r="1.75" fill="#0b3d94"/>
<circle cx="87.6" cy="500.78" r="1.75" fill="#0b3d94"/>
<circle cx="90.19" cy="500.78" r="1.75" fill="#0b3d94"/>
<circle cx="75.73" cy="502.39" r="1.75" fill="#0b3d94"/>
<circle cx="78.28" cy="502.19" r="1.75" fill="#0b3d94"/>
<circle cx="80.28" cy="501.53" r="1.75" fill="#0b3d94"/>
<circle cx="82.63" cy="501.86" r="1.75" fill="#0b3d94"/>
<circle cx="85.05" cy="502.34" r="1.75" fill="#0b3d94"/>
<circle cx="87.96" cy="502.13" r="1.75" fill="#0b3d94"/>
<circle cx="90.48" cy="502.18" r="1.75" fill="#0b3d94"/>
<circle cx="76.26" cy="503.05" r="1.75" fill="#0b3d94"/>
<circle cx="78.81" cy="503.8" r="1.75" fill="#0b3d94"/>
<circle cx="80.76" cy="503.59" r="1.75" fill="#0b3d94"/>
<circle cx="83.16" cy="503.12" r="1.75" fill="#0b3d94"/>
<circle cx="85.48" cy="503.3" r="1.75" fill="#0b3d94"/>
<circle cx="87.06" cy="503.32" r="1.75" fill="#0b3d94"/>
<circle cx="89.96" cy="503.26" r="1.75" fill="#0b3d94"/>
<circle cx="77.13" cy="505.58" r="1.75" fill="#0b3d94"/>
<circle cx="79.33" cy="504.98" r="1.75" fill="#0b3d94"/>
<circle cx="81.76" cy="505.28" r="1.75" fill="#0b3d94"/>
<circle cx="84.49" cy="505.22" r="1.75" fill="#0b3d94"/>
<circle cx="86.81" cy="504.68" r="1.75" fill="#0b3d94"/>
<circle cx="88.76" cy="504.85" r="1.75" fill="#0b3d94"/>
<circle cx="78.02" cy="506.45" r="1.75" fill="#0b3d94"/>
<circle cx="80.46" cy="506.16" r="1.75" fill="#0b3d94"/>
<circle cx="82.56" cy="506.42" r="1.75" fill="#0b3d94"/>
<circle cx="85.78" cy="506.84" r="1.75" fill="#0b3d94"/>
<circle cx="88.4" cy="506.44" r="1.75" fill="#0b3d94"/>
<circle cx="79.06" cy="508.16" r="1.75" fill="#0b3d94"/>
<circle cx="81.65" cy="507.82" r="1.75" fill="#0b3d94"/>
<circle cx="84.71" cy="507.9" r="1.75" fill="#0b3d94"/>
<circle cx="87.44" cy="508.64" r="1.75" fill="#0b3d94"/>
<circle cx="79.82" cy="509.71" r="1.75" fill="#0b3d94"/>
<circle cx="83.32" cy="510.22" r="1.75" fill="#0b3d94"/>
<circle cx="85.65" cy="509.52" r="1.75" fill="#0b3d94"/>
<line x1="73.4" y1="501.5" x2="92.6" y2="501.5" stroke="#111" stroke-width="1.1"/>
<circle cx="110.66" cy="496.95" r="1.75" fill="#0d2cf0"/>
<circle cx="113.16" cy="496.58" r="1.75" fill="#0d2cf0"/>
<circle cx="109.97" cy="498.07" r="1.75" fill="#0d2cf0"/>
<circle cx="114.52" cy="497.68" r="1.75" fill="#0d2cf0"/>
<circle cx="109.43" cy="499.61" r="1.75" fill="#0d2cf0"/>
<circle cx="112.59" cy="499.8" r="1.75" fill="#0d2cf0"/>
<circle cx="115.02" cy="500" r="1.75" fill="#0d2cf0"/>
<circle cx="106.93" cy="500.67" r="1.75" fill="#0d2cf0"/>
<circle cx="108.55" cy="501.14" r="1.75" fill="#0d2cf0"/>
<circle cx="111.1" cy="500.95" r="1.75" fill="#0d2cf0"/>
<circle cx="112.89" cy="500.99" r="1.75" fill="#0d2cf0"/>
<circle cx="115.17" cy="501.49" r="1.75" fill="#0d2cf0"/>
<circle cx="116.96" cy="501.4" r="1.75" fill="#0d2cf0"/>
<circle cx="105.75" cy="502.32" r="1.75" fill="#0d2cf0"/>
<circle cx="108.1" cy="502.91" r="1.75" fill="#0d2cf0"/>
<circle cx="110.34" cy="502.49" r="1.75" fill="#0d2cf0"/>
<circle cx="112.07" cy="502.59" r="1.75" fill="#0d2cf0"/>
<circle cx="114.96" cy="502.79" r="1.75" fill="#0d2cf0"/>
<circle cx="116.59" cy="502.63" r="1.75" fill="#0d2cf0"/>
<circle cx="118.77" cy="502.25" r="1.75" fill="#0d2cf0"/>
<circle cx="104.56" cy="504.58" r="1.75" fill="#0d2cf0"/>
<circle cx="107.16" cy="504.69" r="1.75" fill="#0d2cf0"/>
<circle cx="109.54" cy="504.02" r="1.75" fill="#0d2cf0"/>
<circle cx="112.21" cy="503.94" r="1.75" fill="#0d2cf0"/>
<circle cx="114.49" cy="504.71" r="1.75" fill="#0d2cf0"/>
<circle cx="117.41" cy="504.56" r="1.75" fill="#0d2cf0"/>
<circle cx="119.57" cy="504.66" r="1.75" fill="#0d2cf0"/>
<circle cx="107.16" cy="505.85" r="1.75" fill="#0d2cf0"/>
<circle cx="109.13" cy="505.35" r="1.75" fill="#0d2cf0"/>
<circle cx="111.34" cy="505.75" r="1.75" fill="#0d2cf0"/>
<circle cx="113.55" cy="505.94" r="1.75" fill="#0d2cf0"/>
<circle cx="115.27" cy="505.35" r="1.75" fill="#0d2cf0"/>
<circle cx="118.1" cy="505.43" r="1.75" fill="#0d2cf0"/>
<circle cx="107.28" cy="507.19" r="1.75" fill="#0d2cf0"/>
<circle cx="109.55" cy="507.59" r="1.75" fill="#0d2cf0"/>
<circle cx="112.68" cy="507.11" r="1.75" fill="#0d2cf0"/>
<circle cx="114.8" cy="507.15" r="1.75" fill="#0d2cf0"/>
<circle cx="117.15" cy="507.24" r="1.75" fill="#0d2cf0"/>
<circle cx="107.38" cy="508.56" r="1.75" fill="#0d2cf0"/>
<circle cx="109.66" cy="509.31" r="1.75" fill="#0d2cf0"/>
<circle cx="112.2" cy="508.62" r="1.75" fill="#0d2cf0"/>
<circle cx="114.85" cy="509.4" r="1.75" fill="#0d2cf0"/>
<circle cx="116.64" cy="508.54" r="1.75" fill="#0d2cf0"/>
<line x1="102.6" y1="503.8" x2="121.8" y2="503.8" stroke="#0a1a70" stroke-width="1.1"/>
<circle cx="140.54" cy="493.79" r="1.75" fill="#0c80f2"/>
<circle cx="139.53" cy="495.34" r="1.75" fill="#0c80f2"/>
<circle cx="142.05" cy="495.51" r="1.75" fill="#0c80f2"/>
<circle cx="138.57" cy="497.69" r="1.75" fill="#0c80f2"/>
<circle cx="141.25" cy="497.21" r="1.75" fill="#0c80f2"/>
<circle cx="143.41" cy="497.32" r="1.75" fill="#0c80f2"/>
<circle cx="137.09" cy="498.69" r="1.75" fill="#0c80f2"/>
<circle cx="139.3" cy="498.63" r="1.75" fill="#0c80f2"/>
<circle cx="142.73" cy="498.48" r="1.75" fill="#0c80f2"/>
<circle cx="144.8" cy="498.98" r="1.75" fill="#0c80f2"/>
<circle cx="136.27" cy="500.12" r="1.75" fill="#0c80f2"/>
<circle cx="138.22" cy="500.15" r="1.75" fill="#0c80f2"/>
<circle cx="140.9" cy="500.35" r="1.75" fill="#0c80f2"/>
<circle cx="144" cy="500.75" r="1.75" fill="#0c80f2"/>
<circle cx="146.47" cy="499.92" r="1.75" fill="#0c80f2"/>
<circle cx="134.11" cy="502.16" r="1.75" fill="#0c80f2"/>
<circle cx="137.11" cy="501.92" r="1.75" fill="#0c80f2"/>
<circle cx="138.95" cy="501.45" r="1.75" fill="#0c80f2"/>
<circle cx="140.89" cy="502.38" r="1.75" fill="#0c80f2"/>
<circle cx="143.47" cy="502.31" r="1.75" fill="#0c80f2"/>
<circle cx="145.75" cy="501.7" r="1.75" fill="#0c80f2"/>
<circle cx="147.03" cy="501.6" r="1.75" fill="#0c80f2"/>
<circle cx="133.27" cy="503.68" r="1.75" fill="#0c80f2"/>
<circle cx="135.91" cy="503.72" r="1.75" fill="#0c80f2"/>
<circle cx="137.83" cy="503.76" r="1.75" fill="#0c80f2"/>
<circle cx="139.85" cy="503.55" r="1.75" fill="#0c80f2"/>
<circle cx="141.65" cy="503.78" r="1.75" fill="#0c80f2"/>
<circle cx="144.05" cy="503.92" r="1.75" fill="#0c80f2"/>
<circle cx="146.68" cy="503.3" r="1.75" fill="#0c80f2"/>
<circle cx="148.38" cy="503.25" r="1.75" fill="#0c80f2"/>
<circle cx="134.63" cy="505.25" r="1.75" fill="#0c80f2"/>
<circle cx="136.27" cy="504.62" r="1.75" fill="#0c80f2"/>
<circle cx="138.85" cy="505.13" r="1.75" fill="#0c80f2"/>
<circle cx="140.89" cy="504.77" r="1.75" fill="#0c80f2"/>
<circle cx="143.27" cy="504.56" r="1.75" fill="#0c80f2"/>
<circle cx="145.14" cy="505.01" r="1.75" fill="#0c80f2"/>
<circle cx="147.97" cy="505.19" r="1.75" fill="#0c80f2"/>
<circle cx="136.03" cy="506.58" r="1.75" fill="#0c80f2"/>
<circle cx="137.52" cy="506.35" r="1.75" fill="#0c80f2"/>
<circle cx="140.39" cy="506.8" r="1.75" fill="#0c80f2"/>
<circle cx="141.88" cy="506.12" r="1.75" fill="#0c80f2"/>
<circle cx="144.21" cy="506.77" r="1.75" fill="#0c80f2"/>
<circle cx="146.28" cy="506.36" r="1.75" fill="#0c80f2"/>
<circle cx="136.83" cy="508.58" r="1.75" fill="#0c80f2"/>
<circle cx="138.56" cy="507.68" r="1.75" fill="#0c80f2"/>
<circle cx="140.84" cy="508.07" r="1.75" fill="#0c80f2"/>
<circle cx="143.35" cy="507.85" r="1.75" fill="#0c80f2"/>
<circle cx="145.63" cy="508.39" r="1.75" fill="#0c80f2"/>
<circle cx="137.69" cy="509.41" r="1.75" fill="#0c80f2"/>
<circle cx="140.36" cy="509.51" r="1.75" fill="#0c80f2"/>
<circle cx="142.43" cy="509.43" r="1.75" fill="#0c80f2"/>
<circle cx="144.04" cy="509.96" r="1.75" fill="#0c80f2"/>
<line x1="131.4" y1="503.8" x2="150.6" y2="503.8" stroke="#0a2a70" stroke-width="1.1"/>
<circle cx="169.78" cy="498.27" r="1.5" fill="#6a6a6a"/>
<circle cx="169.96" cy="499.36" r="1.5" fill="#6a6a6a"/>
<circle cx="167.97" cy="501.05" r="1.5" fill="#6a6a6a"/>
<circle cx="170.6" cy="501.37" r="1.5" fill="#6a6a6a"/>
<circle cx="172.65" cy="501.04" r="1.5" fill="#6a6a6a"/>
<circle cx="165.08" cy="502.93" r="1.5" fill="#6a6a6a"/>
<circle cx="167.14" cy="502.38" r="1.5" fill="#6a6a6a"/>
<circle cx="169.19" cy="502.59" r="1.5" fill="#6a6a6a"/>
<circle cx="171.79" cy="502.88" r="1.5" fill="#6a6a6a"/>
<circle cx="173.79" cy="502.95" r="1.5" fill="#6a6a6a"/>
<circle cx="176.01" cy="502.55" r="1.5" fill="#6a6a6a"/>
<circle cx="163.06" cy="504.46" r="1.5" fill="#6a6a6a"/>
<circle cx="165.82" cy="503.92" r="1.5" fill="#6a6a6a"/>
<circle cx="168.18" cy="504.13" r="1.5" fill="#6a6a6a"/>
<circle cx="170.42" cy="504.1" r="1.5" fill="#6a6a6a"/>
<circle cx="172.72" cy="503.9" r="1.5" fill="#6a6a6a"/>
<circle cx="175.2" cy="504.11" r="1.5" fill="#6a6a6a"/>
<circle cx="178.02" cy="503.97" r="1.5" fill="#6a6a6a"/>
<circle cx="162.68" cy="505.57" r="1.5" fill="#6a6a6a"/>
<circle cx="164.63" cy="505.94" r="1.5" fill="#6a6a6a"/>
<circle cx="167.22" cy="505.71" r="1.5" fill="#6a6a6a"/>
<circle cx="169.07" cy="505.73" r="1.5" fill="#6a6a6a"/>
<circle cx="171.58" cy="506" r="1.5" fill="#6a6a6a"/>
<circle cx="173.79" cy="505.67" r="1.5" fill="#6a6a6a"/>
<circle cx="176.52" cy="505.47" r="1.5" fill="#6a6a6a"/>
<circle cx="178.55" cy="505.94" r="1.5" fill="#6a6a6a"/>
<circle cx="162.56" cy="507.02" r="1.5" fill="#6a6a6a"/>
<circle cx="164.44" cy="507.04" r="1.5" fill="#6a6a6a"/>
<circle cx="167.28" cy="507.15" r="1.5" fill="#6a6a6a"/>
<circle cx="169.49" cy="507.54" r="1.5" fill="#6a6a6a"/>
<circle cx="171.56" cy="507.16" r="1.5" fill="#6a6a6a"/>
<circle cx="174.25" cy="507.37" r="1.5" fill="#6a6a6a"/>
<circle cx="176.14" cy="507.43" r="1.5" fill="#6a6a6a"/>
<circle cx="178.49" cy="507.17" r="1.5" fill="#6a6a6a"/>
<circle cx="162.1" cy="509" r="1.5" fill="#6a6a6a"/>
<circle cx="164.96" cy="508.93" r="1.5" fill="#6a6a6a"/>
<circle cx="167.29" cy="508.56" r="1.5" fill="#6a6a6a"/>
<circle cx="169.18" cy="508.84" r="1.5" fill="#6a6a6a"/>
<circle cx="171.93" cy="509.12" r="1.5" fill="#6a6a6a"/>
<circle cx="173.9" cy="508.7" r="1.5" fill="#6a6a6a"/>
<circle cx="176.24" cy="508.85" r="1.5" fill="#6a6a6a"/>
<circle cx="178.86" cy="508.66" r="1.5" fill="#6a6a6a"/>
<line x1="161.1" y1="506" x2="179.9" y2="506" stroke="#222" stroke-width="1.1"/>
<text x="0" y="0" font-size="6.0" font-weight="bold" fill="#111" stroke="#111" stroke-width="0.05" text-anchor="middle" textLength="60.5" lengthAdjust="spacingAndGlyphs" transform="translate(222.6,287) rotate(-90)">plasma NfL (pg/mL)</text>
<line x1="237.9" y1="260.1" x2="237.9" y2="312.2" stroke="#8a8a8a" stroke-width="0.7"/>
<line x1="237.9" y1="312.2" x2="391.6" y2="312.2" stroke="#aaaaaa" stroke-width="0.9"/>
<line x1="235.7" y1="260.6" x2="237.9" y2="260.6" stroke="#8a8a8a" stroke-width="0.6"/>
<text x="234.9" y="261.95" font-size="3.9" font-weight="normal" fill="#3a3a3a" text-anchor="end" stroke="#3a3a3a" stroke-width="0.14">500</text>
<line x1="235.7" y1="270.9" x2="237.9" y2="270.9" stroke="#8a8a8a" stroke-width="0.6"/>
<text x="234.9" y="272.25" font-size="3.9" font-weight="normal" fill="#3a3a3a" text-anchor="end" stroke="#3a3a3a" stroke-width="0.14">400</text>
<line x1="235.7" y1="281.2" x2="237.9" y2="281.2" stroke="#8a8a8a" stroke-width="0.6"/>
<text x="234.9" y="282.55" font-size="3.9" font-weight="normal" fill="#3a3a3a" text-anchor="end" stroke="#3a3a3a" stroke-width="0.14">300</text>
<line x1="235.7" y1="291.6" x2="237.9" y2="291.6" stroke="#8a8a8a" stroke-width="0.6"/>
<text x="234.9" y="292.95" font-size="3.9" font-weight="normal" fill="#3a3a3a" text-anchor="end" stroke="#3a3a3a" stroke-width="0.14">200</text>
<line x1="235.7" y1="301.9" x2="237.9" y2="301.9" stroke="#8a8a8a" stroke-width="0.6"/>
<text x="234.9" y="303.25" font-size="3.9" font-weight="normal" fill="#3a3a3a" text-anchor="end" stroke="#3a3a3a" stroke-width="0.14">100</text>
<line x1="235.7" y1="312.2" x2="237.9" y2="312.2" stroke="#8a8a8a" stroke-width="0.6"/>
<text x="234.9" y="313.55" font-size="3.9" font-weight="normal" fill="#3a3a3a" text-anchor="end" stroke="#3a3a3a" stroke-width="0.14">0</text>
<text x="0" y="0" font-size="6.0" font-weight="bold" fill="#111" stroke="#111" stroke-width="0.05" text-anchor="middle" textLength="66.5" lengthAdjust="spacingAndGlyphs" transform="translate(222.3,386.5) rotate(-90)">plasma GFAP (pg/mL)</text>
<line x1="237.9" y1="359.5" x2="237.9" y2="411" stroke="#8a8a8a" stroke-width="0.7"/>
<line x1="237.9" y1="411" x2="391.6" y2="411" stroke="#aaaaaa" stroke-width="0.9"/>
<line x1="235.7" y1="360" x2="237.9" y2="360" stroke="#8a8a8a" stroke-width="0.6"/>
<text x="234.9" y="361.35" font-size="3.9" font-weight="normal" fill="#3a3a3a" text-anchor="end" stroke="#3a3a3a" stroke-width="0.14">100</text>
<line x1="235.7" y1="385.5" x2="237.9" y2="385.5" stroke="#8a8a8a" stroke-width="0.6"/>
<text x="234.9" y="386.85" font-size="3.9" font-weight="normal" fill="#3a3a3a" text-anchor="end" stroke="#3a3a3a" stroke-width="0.14">50</text>
<line x1="235.7" y1="411" x2="237.9" y2="411" stroke="#8a8a8a" stroke-width="0.6"/>
<text x="234.9" y="412.35" font-size="3.9" font-weight="normal" fill="#3a3a3a" text-anchor="end" stroke="#3a3a3a" stroke-width="0.14">0</text>
<text x="0" y="0" font-size="6.0" font-weight="bold" fill="#111" stroke="#111" stroke-width="0.05" text-anchor="middle" textLength="71.3" lengthAdjust="spacingAndGlyphs" transform="translate(218.2,485.8) rotate(-90)">plasma sCD163 (ng/ml)</text>
<line x1="237.9" y1="459.4" x2="237.9" y2="511" stroke="#8a8a8a" stroke-width="0.7"/>
<line x1="237.9" y1="511" x2="391.6" y2="511" stroke="#aaaaaa" stroke-width="0.9"/>
<line x1="235.7" y1="459.9" x2="237.9" y2="459.9" stroke="#8a8a8a" stroke-width="0.6"/>
<text x="234.9" y="461.25" font-size="3.9" font-weight="normal" fill="#3a3a3a" text-anchor="end" stroke="#3a3a3a" stroke-width="0.14">10,000</text>
<line x1="235.7" y1="470.1" x2="237.9" y2="470.1" stroke="#8a8a8a" stroke-width="0.6"/>
<text x="234.9" y="471.45" font-size="3.9" font-weight="normal" fill="#3a3a3a" text-anchor="end" stroke="#3a3a3a" stroke-width="0.14">8,000</text>
<line x1="235.7" y1="480.3" x2="237.9" y2="480.3" stroke="#8a8a8a" stroke-width="0.6"/>
<text x="234.9" y="481.65" font-size="3.9" font-weight="normal" fill="#3a3a3a" text-anchor="end" stroke="#3a3a3a" stroke-width="0.14">6,000</text>
<line x1="235.7" y1="490.6" x2="237.9" y2="490.6" stroke="#8a8a8a" stroke-width="0.6"/>
<text x="234.9" y="491.95" font-size="3.9" font-weight="normal" fill="#3a3a3a" text-anchor="end" stroke="#3a3a3a" stroke-width="0.14">4,000</text>
<line x1="235.7" y1="500.8" x2="237.9" y2="500.8" stroke="#8a8a8a" stroke-width="0.6"/>
<text x="234.9" y="502.15" font-size="3.9" font-weight="normal" fill="#3a3a3a" text-anchor="end" stroke="#3a3a3a" stroke-width="0.14">2,000</text>
<line x1="235.7" y1="511" x2="237.9" y2="511" stroke="#8a8a8a" stroke-width="0.6"/>
<text x="234.9" y="512.35" font-size="3.9" font-weight="normal" fill="#3a3a3a" text-anchor="end" stroke="#3a3a3a" stroke-width="0.14">0</text>
<rect x="244.6" y="253.3" width="56.2" height="71.7" rx="4" fill="none" stroke="#e6a3a3" stroke-width="0.75"/>
<rect x="301.3" y="253.3" width="58" height="71.7" rx="4" fill="none" stroke="#e0b795" stroke-width="0.75"/>
<text x="256.9" y="320.4" font-size="5.2" font-weight="bold" fill="#111" text-anchor="middle" textLength="18.9" lengthAdjust="spacingAndGlyphs" stroke="#111" stroke-width="0.2">with NS</text>
<text x="285.6" y="320.4" font-size="5.2" font-weight="bold" fill="#111" text-anchor="middle" textLength="26" lengthAdjust="spacingAndGlyphs" stroke="#111" stroke-width="0.2">without NS</text>
<text x="314.9" y="320.4" font-size="5.2" font-weight="bold" fill="#111" text-anchor="middle" textLength="19.1" lengthAdjust="spacingAndGlyphs" stroke="#111" stroke-width="0.2">with NS</text>
<text x="343.4" y="320.4" font-size="5.2" font-weight="bold" fill="#111" text-anchor="middle" textLength="26" lengthAdjust="spacingAndGlyphs" stroke="#111" stroke-width="0.2">without NS</text>
<text x="372.7" y="320.4" font-size="5.2" font-weight="bold" fill="#111" text-anchor="middle" textLength="7" lengthAdjust="spacingAndGlyphs" stroke="#111" stroke-width="0.2">HD</text>
<text x="272.7" y="331.5" font-size="6.6" font-weight="bold" fill="#c0161e" text-anchor="middle" textLength="44.8" lengthAdjust="spacingAndGlyphs" stroke="#c0161e" stroke-width="0.2">severe COVID-19</text>
<text x="331.3" y="331.5" font-size="6.6" font-weight="bold" fill="#b0521a" text-anchor="middle" textLength="56.4" lengthAdjust="spacingAndGlyphs" stroke="#b0521a" stroke-width="0.2">non-severe COVID-19</text>
<rect x="244.6" y="352.5" width="56.2" height="72" rx="4" fill="none" stroke="#e6a3a3" stroke-width="0.75"/>
<rect x="301.3" y="352.5" width="58" height="72" rx="4" fill="none" stroke="#e0b795" stroke-width="0.75"/>
<text x="256.9" y="419.3" font-size="5.2" font-weight="bold" fill="#111" text-anchor="middle" textLength="18.9" lengthAdjust="spacingAndGlyphs" stroke="#111" stroke-width="0.2">with NS</text>
<text x="285.6" y="419.3" font-size="5.2" font-weight="bold" fill="#111" text-anchor="middle" textLength="26" lengthAdjust="spacingAndGlyphs" stroke="#111" stroke-width="0.2">without NS</text>
<text x="314.9" y="419.3" font-size="5.2" font-weight="bold" fill="#111" text-anchor="middle" textLength="19.1" lengthAdjust="spacingAndGlyphs" stroke="#111" stroke-width="0.2">with NS</text>
<text x="343.4" y="419.3" font-size="5.2" font-weight="bold" fill="#111" text-anchor="middle" textLength="26" lengthAdjust="spacingAndGlyphs" stroke="#111" stroke-width="0.2">without NS</text>
<text x="372.7" y="419.3" font-size="5.2" font-weight="bold" fill="#111" text-anchor="middle" textLength="7" lengthAdjust="spacingAndGlyphs" stroke="#111" stroke-width="0.2">HD</text>
<text x="272.7" y="431" font-size="6.6" font-weight="bold" fill="#c0161e" text-anchor="middle" textLength="44.8" lengthAdjust="spacingAndGlyphs" stroke="#c0161e" stroke-width="0.2">severe COVID-19</text>
<text x="331.3" y="431" font-size="6.6" font-weight="bold" fill="#b0521a" text-anchor="middle" textLength="56.4" lengthAdjust="spacingAndGlyphs" stroke="#b0521a" stroke-width="0.2">non-severe COVID-19</text>
<rect x="244.6" y="451.4" width="56.2" height="72.4" rx="4" fill="none" stroke="#e6a3a3" stroke-width="0.75"/>
<rect x="301.3" y="451.4" width="58" height="72.4" rx="4" fill="none" stroke="#e0b795" stroke-width="0.75"/>
<text x="256.9" y="518.5" font-size="5.2" font-weight="bold" fill="#111" text-anchor="middle" textLength="18.9" lengthAdjust="spacingAndGlyphs" stroke="#111" stroke-width="0.2">with NS</text>
<text x="285.6" y="518.5" font-size="5.2" font-weight="bold" fill="#111" text-anchor="middle" textLength="26" lengthAdjust="spacingAndGlyphs" stroke="#111" stroke-width="0.2">without NS</text>
<text x="314.9" y="518.5" font-size="5.2" font-weight="bold" fill="#111" text-anchor="middle" textLength="19.1" lengthAdjust="spacingAndGlyphs" stroke="#111" stroke-width="0.2">with NS</text>
<text x="343.4" y="518.5" font-size="5.2" font-weight="bold" fill="#111" text-anchor="middle" textLength="26" lengthAdjust="spacingAndGlyphs" stroke="#111" stroke-width="0.2">without NS</text>
<text x="372.7" y="518.5" font-size="5.2" font-weight="bold" fill="#111" text-anchor="middle" textLength="7" lengthAdjust="spacingAndGlyphs" stroke="#111" stroke-width="0.2">HD</text>
<text x="272.7" y="530.3" font-size="6.6" font-weight="bold" fill="#c0161e" text-anchor="middle" textLength="44.8" lengthAdjust="spacingAndGlyphs" stroke="#c0161e" stroke-width="0.2">severe COVID-19</text>
<text x="331.3" y="530.3" font-size="6.6" font-weight="bold" fill="#b0521a" text-anchor="middle" textLength="56.4" lengthAdjust="spacingAndGlyphs" stroke="#b0521a" stroke-width="0.2">non-severe COVID-19</text>
<line x1="256.6" y1="257.5" x2="373.4" y2="257.5" stroke="#7c7c7c" stroke-width="1"/>
<rect x="309.77" y="255.3" width="2.2" height="2.2" fill="#111"/>
<rect x="312.52" y="255.3" width="2.2" height="2.2" fill="#111"/>
<rect x="315.27" y="255.3" width="2.2" height="2.2" fill="#111"/>
<rect x="318.02" y="255.3" width="2.2" height="2.2" fill="#111"/>
<line x1="285.8" y1="261.3" x2="373.4" y2="261.3" stroke="#7c7c7c" stroke-width="1"/>
<rect x="324.38" y="259.1" width="2.2" height="2.2" fill="#111"/>
<rect x="327.12" y="259.1" width="2.2" height="2.2" fill="#111"/>
<rect x="329.88" y="259.1" width="2.2" height="2.2" fill="#111"/>
<rect x="332.62" y="259.1" width="2.2" height="2.2" fill="#111"/>
<line x1="315" y1="264.7" x2="373.4" y2="264.7" stroke="#7c7c7c" stroke-width="1"/>
<rect x="340.35" y="262.5" width="2.2" height="2.2" fill="#111"/>
<rect x="343.1" y="262.5" width="2.2" height="2.2" fill="#111"/>
<rect x="345.85" y="262.5" width="2.2" height="2.2" fill="#111"/>
<line x1="344.2" y1="268" x2="373.4" y2="268" stroke="#7c7c7c" stroke-width="1"/>
<rect x="353.57" y="265.8" width="2.2" height="2.2" fill="#111"/>
<rect x="356.32" y="265.8" width="2.2" height="2.2" fill="#111"/>
<rect x="359.07" y="265.8" width="2.2" height="2.2" fill="#111"/>
<rect x="361.82" y="265.8" width="2.2" height="2.2" fill="#111"/>
<line x1="256.6" y1="281.3" x2="285.8" y2="281.3" stroke="#7c7c7c" stroke-width="1"/>
<rect x="270.1" y="279.1" width="2.2" height="2.2" fill="#111"/>
<line x1="315" y1="281.3" x2="344.2" y2="281.3" stroke="#7c7c7c" stroke-width="1"/>
<rect x="328.5" y="279.1" width="2.2" height="2.2" fill="#111"/>
<line x1="256.6" y1="356.4" x2="373.4" y2="356.4" stroke="#7c7c7c" stroke-width="1"/>
<rect x="309.77" y="354.2" width="2.2" height="2.2" fill="#111"/>
<rect x="312.52" y="354.2" width="2.2" height="2.2" fill="#111"/>
<rect x="315.27" y="354.2" width="2.2" height="2.2" fill="#111"/>
<rect x="318.02" y="354.2" width="2.2" height="2.2" fill="#111"/>
<line x1="285.8" y1="360.1" x2="373.4" y2="360.1" stroke="#7c7c7c" stroke-width="1"/>
<rect x="324.38" y="357.9" width="2.2" height="2.2" fill="#111"/>
<rect x="327.12" y="357.9" width="2.2" height="2.2" fill="#111"/>
<rect x="329.88" y="357.9" width="2.2" height="2.2" fill="#111"/>
<rect x="332.62" y="357.9" width="2.2" height="2.2" fill="#111"/>
<line x1="315" y1="363.5" x2="373.4" y2="363.5" stroke="#7c7c7c" stroke-width="1"/>
<rect x="338.97" y="361.3" width="2.2" height="2.2" fill="#111"/>
<rect x="341.72" y="361.3" width="2.2" height="2.2" fill="#111"/>
<rect x="344.47" y="361.3" width="2.2" height="2.2" fill="#111"/>
<rect x="347.22" y="361.3" width="2.2" height="2.2" fill="#111"/>
<line x1="256.6" y1="380.7" x2="285.8" y2="380.7" stroke="#7c7c7c" stroke-width="1"/>
<rect x="268.73" y="378.5" width="2.2" height="2.2" fill="#111"/>
<rect x="271.48" y="378.5" width="2.2" height="2.2" fill="#111"/>
<line x1="315" y1="380.7" x2="344.2" y2="380.7" stroke="#7c7c7c" stroke-width="1"/>
<rect x="324.38" y="378.5" width="2.2" height="2.2" fill="#111"/>
<rect x="327.12" y="378.5" width="2.2" height="2.2" fill="#111"/>
<rect x="329.88" y="378.5" width="2.2" height="2.2" fill="#111"/>
<rect x="332.62" y="378.5" width="2.2" height="2.2" fill="#111"/>
<line x1="256.6" y1="455.6" x2="373.4" y2="455.6" stroke="#7c7c7c" stroke-width="1"/>
<rect x="309.77" y="453.4" width="2.2" height="2.2" fill="#111"/>
<rect x="312.52" y="453.4" width="2.2" height="2.2" fill="#111"/>
<rect x="315.27" y="453.4" width="2.2" height="2.2" fill="#111"/>
<rect x="318.02" y="453.4" width="2.2" height="2.2" fill="#111"/>
<line x1="285.8" y1="459.4" x2="373.4" y2="459.4" stroke="#7c7c7c" stroke-width="1"/>
<rect x="324.38" y="457.2" width="2.2" height="2.2" fill="#111"/>
<rect x="327.12" y="457.2" width="2.2" height="2.2" fill="#111"/>
<rect x="329.88" y="457.2" width="2.2" height="2.2" fill="#111"/>
<rect x="332.62" y="457.2" width="2.2" height="2.2" fill="#111"/>
<line x1="315" y1="462.8" x2="373.4" y2="462.8" stroke="#7c7c7c" stroke-width="1"/>
<rect x="340.35" y="460.6" width="2.2" height="2.2" fill="#111"/>
<rect x="343.1" y="460.6" width="2.2" height="2.2" fill="#111"/>
<rect x="345.85" y="460.6" width="2.2" height="2.2" fill="#111"/>
<line x1="344.2" y1="466.1" x2="373.4" y2="466.1" stroke="#7c7c7c" stroke-width="1"/>
<rect x="353.57" y="463.9" width="2.2" height="2.2" fill="#111"/>
<rect x="356.32" y="463.9" width="2.2" height="2.2" fill="#111"/>
<rect x="359.07" y="463.9" width="2.2" height="2.2" fill="#111"/>
<rect x="361.82" y="463.9" width="2.2" height="2.2" fill="#111"/>
<circle cx="260.6" cy="297.9" r="1.95" fill="#a8100f"/>
<circle cx="249.1" cy="301.6" r="1.95" fill="#a8100f"/>
<circle cx="256.8" cy="301.6" r="1.95" fill="#a8100f"/>
<circle cx="260.6" cy="302.2" r="1.95" fill="#a8100f"/>
<circle cx="264.4" cy="302.2" r="1.95" fill="#a8100f"/>
<circle cx="253" cy="303.8" r="1.95" fill="#a8100f"/>
<circle cx="256.1" cy="305.7" r="1.95" fill="#a8100f"/>
<circle cx="253" cy="308" r="1.95" fill="#a8100f"/>
<circle cx="260.6" cy="308" r="1.95" fill="#a8100f"/>
<circle cx="258.5" cy="306" r="1.95" fill="#a8100f"/>
<line x1="247" y1="302.9" x2="266.2" y2="302.9" stroke="#111" stroke-width="1.1"/>
<circle cx="285.4" cy="287.8" r="2.15" fill="none" stroke="#a8100f" stroke-width="1.1"/>
<circle cx="285.4" cy="291.04" r="1.35" fill="none" stroke="#a8100f" stroke-width="1.1"/>
<circle cx="285.28" cy="292.57" r="1.35" fill="none" stroke="#a8100f" stroke-width="1.1"/>
<circle cx="284.93" cy="293.63" r="1.35" fill="none" stroke="#a8100f" stroke-width="1.1"/>
<circle cx="286.6" cy="293.66" r="1.35" fill="none" stroke="#a8100f" stroke-width="1.1"/>
<circle cx="285.02" cy="294.88" r="1.35" fill="none" stroke="#a8100f" stroke-width="1.1"/>
<circle cx="286.56" cy="295.55" r="1.35" fill="none" stroke="#a8100f" stroke-width="1.1"/>
<circle cx="284.41" cy="296.36" r="1.35" fill="none" stroke="#a8100f" stroke-width="1.1"/>
<circle cx="286.47" cy="296.85" r="1.35" fill="none" stroke="#a8100f" stroke-width="1.1"/>
<circle cx="284.39" cy="298.78" r="1.35" fill="none" stroke="#a8100f" stroke-width="1.1"/>
<circle cx="287.42" cy="298.79" r="1.35" fill="none" stroke="#a8100f" stroke-width="1.1"/>
<circle cx="284.14" cy="299.38" r="1.35" fill="none" stroke="#a8100f" stroke-width="1.1"/>
<circle cx="286.82" cy="299.8" r="1.35" fill="none" stroke="#a8100f" stroke-width="1.1"/>
<circle cx="284.4" cy="301.25" r="1.35" fill="none" stroke="#a8100f" stroke-width="1.1"/>
<circle cx="287.15" cy="301.22" r="1.35" fill="none" stroke="#a8100f" stroke-width="1.1"/>
<circle cx="283.85" cy="302.97" r="1.35" fill="none" stroke="#a8100f" stroke-width="1.1"/>
<circle cx="286.05" cy="303.15" r="1.35" fill="none" stroke="#a8100f" stroke-width="1.1"/>
<circle cx="288.03" cy="302.42" r="1.35" fill="none" stroke="#a8100f" stroke-width="1.1"/>
<circle cx="283.38" cy="304.09" r="1.35" fill="none" stroke="#a8100f" stroke-width="1.1"/>
<circle cx="285.87" cy="304.17" r="1.35" fill="none" stroke="#a8100f" stroke-width="1.1"/>
<circle cx="288.8" cy="304" r="1.35" fill="none" stroke="#a8100f" stroke-width="1.1"/>
<circle cx="279.98" cy="305.55" r="1.35" fill="none" stroke="#a8100f" stroke-width="1.1"/>
<circle cx="282.11" cy="306.18" r="1.35" fill="none" stroke="#a8100f" stroke-width="1.1"/>
<circle cx="284.76" cy="305.63" r="1.35" fill="none" stroke="#a8100f" stroke-width="1.1"/>
<circle cx="286.81" cy="306.29" r="1.35" fill="none" stroke="#a8100f" stroke-width="1.1"/>
<circle cx="289.15" cy="305.53" r="1.35" fill="none" stroke="#a8100f" stroke-width="1.1"/>
<circle cx="291.68" cy="305.95" r="1.35" fill="none" stroke="#a8100f" stroke-width="1.1"/>
<circle cx="279.27" cy="306.9" r="1.35" fill="none" stroke="#a8100f" stroke-width="1.1"/>
<circle cx="280.76" cy="307.62" r="1.35" fill="none" stroke="#a8100f" stroke-width="1.1"/>
<circle cx="283.13" cy="307.71" r="1.35" fill="none" stroke="#a8100f" stroke-width="1.1"/>
<circle cx="284.34" cy="307.09" r="1.35" fill="none" stroke="#a8100f" stroke-width="1.1"/>
<circle cx="286.42" cy="306.99" r="1.35" fill="none" stroke="#a8100f" stroke-width="1.1"/>
<circle cx="289.28" cy="307.38" r="1.35" fill="none" stroke="#a8100f" stroke-width="1.1"/>
<circle cx="291.25" cy="307.17" r="1.35" fill="none" stroke="#a8100f" stroke-width="1.1"/>
<circle cx="293.19" cy="307.25" r="1.35" fill="none" stroke="#a8100f" stroke-width="1.1"/>
<circle cx="278.33" cy="309.08" r="1.35" fill="none" stroke="#a8100f" stroke-width="1.1"/>
<circle cx="281.08" cy="308.41" r="1.35" fill="none" stroke="#a8100f" stroke-width="1.1"/>
<circle cx="282.8" cy="308.92" r="1.35" fill="none" stroke="#a8100f" stroke-width="1.1"/>
<circle cx="284.49" cy="308.67" r="1.35" fill="none" stroke="#a8100f" stroke-width="1.1"/>
<circle cx="286.47" cy="308.5" r="1.35" fill="none" stroke="#a8100f" stroke-width="1.1"/>
<circle cx="288.65" cy="308.9" r="1.35" fill="none" stroke="#a8100f" stroke-width="1.1"/>
<circle cx="291.11" cy="308.5" r="1.35" fill="none" stroke="#a8100f" stroke-width="1.1"/>
<circle cx="292.54" cy="308.63" r="1.35" fill="none" stroke="#a8100f" stroke-width="1.1"/>
<circle cx="278.55" cy="309.99" r="1.35" fill="none" stroke="#a8100f" stroke-width="1.1"/>
<circle cx="280.31" cy="310" r="1.35" fill="none" stroke="#a8100f" stroke-width="1.1"/>
<circle cx="282.91" cy="310.35" r="1.35" fill="none" stroke="#a8100f" stroke-width="1.1"/>
<circle cx="284.3" cy="309.9" r="1.35" fill="none" stroke="#a8100f" stroke-width="1.1"/>
<circle cx="286.76" cy="310.35" r="1.35" fill="none" stroke="#a8100f" stroke-width="1.1"/>
<circle cx="289.12" cy="309.89" r="1.35" fill="none" stroke="#a8100f" stroke-width="1.1"/>
<circle cx="290.77" cy="310.5" r="1.35" fill="none" stroke="#a8100f" stroke-width="1.1"/>
<circle cx="293.14" cy="310.08" r="1.35" fill="none" stroke="#a8100f" stroke-width="1.1"/>
<circle cx="277.98" cy="312.25" r="1.35" fill="none" stroke="#a8100f" stroke-width="1.1"/>
<circle cx="279.89" cy="311.87" r="1.35" fill="none" stroke="#a8100f" stroke-width="1.1"/>
<circle cx="281.84" cy="311.72" r="1.35" fill="none" stroke="#a8100f" stroke-width="1.1"/>
<circle cx="284.26" cy="312.3" r="1.35" fill="none" stroke="#a8100f" stroke-width="1.1"/>
<circle cx="285.66" cy="311.5" r="1.35" fill="none" stroke="#a8100f" stroke-width="1.1"/>
<circle cx="287.94" cy="311.5" r="1.35" fill="none" stroke="#a8100f" stroke-width="1.1"/>
<circle cx="289.12" cy="312.2" r="1.35" fill="none" stroke="#a8100f" stroke-width="1.1"/>
<circle cx="291.45" cy="312.12" r="1.35" fill="none" stroke="#a8100f" stroke-width="1.1"/>
<circle cx="293.34" cy="312.18" r="1.35" fill="none" stroke="#a8100f" stroke-width="1.1"/>
<line x1="276.2" y1="308.1" x2="295.4" y2="308.1" stroke="#111" stroke-width="1.1"/>
<circle cx="312.2" cy="303" r="1.95" fill="#b24c10"/>
<circle cx="317.3" cy="302.3" r="1.95" fill="#b24c10"/>
<circle cx="307.1" cy="310.4" r="1.95" fill="#b24c10"/>
<circle cx="312.2" cy="309.7" r="1.95" fill="#b24c10"/>
<circle cx="317.3" cy="309.7" r="1.95" fill="#b24c10"/>
<circle cx="322.4" cy="309.7" r="1.95" fill="#b24c10"/>
<line x1="305.4" y1="309.3" x2="324.6" y2="309.3" stroke="#3a1505" stroke-width="1.1"/>
<circle cx="343.6" cy="299.5" r="1.75" fill="none" stroke="#b24c10" stroke-width="1.1"/>
<circle cx="343.37" cy="302.03" r="1.8" fill="#b24c10"/>
<circle cx="342.79" cy="303.84" r="1.8" fill="#b24c10"/>
<circle cx="342.11" cy="305.63" r="1.8" fill="#b24c10"/>
<circle cx="343.87" cy="305.4" r="1.8" fill="#b24c10"/>
<circle cx="346.3" cy="305.3" r="1.8" fill="#b24c10"/>
<circle cx="336.72" cy="306.63" r="1.8" fill="#b24c10"/>
<circle cx="339.42" cy="307.14" r="1.8" fill="#b24c10"/>
<circle cx="341.49" cy="306.79" r="1.8" fill="#b24c10"/>
<circle cx="344.44" cy="307.17" r="1.8" fill="#b24c10"/>
<circle cx="346.36" cy="306.5" r="1.8" fill="#b24c10"/>
<circle cx="349.35" cy="307.18" r="1.8" fill="#b24c10"/>
<circle cx="351.39" cy="306.44" r="1.8" fill="#b24c10"/>
<circle cx="337.18" cy="308.21" r="1.8" fill="#b24c10"/>
<circle cx="339.26" cy="308.4" r="1.8" fill="#b24c10"/>
<circle cx="341.3" cy="308.03" r="1.8" fill="#b24c10"/>
<circle cx="343.38" cy="308.08" r="1.8" fill="#b24c10"/>
<circle cx="345.18" cy="308.58" r="1.8" fill="#b24c10"/>
<circle cx="347.62" cy="308.05" r="1.8" fill="#b24c10"/>
<circle cx="349.23" cy="308.22" r="1.8" fill="#b24c10"/>
<circle cx="351.58" cy="308.21" r="1.8" fill="#b24c10"/>
<circle cx="336.37" cy="309.6" r="1.8" fill="#b24c10"/>
<circle cx="339" cy="310.12" r="1.8" fill="#b24c10"/>
<circle cx="340.61" cy="309.85" r="1.8" fill="#b24c10"/>
<circle cx="343.33" cy="309.43" r="1.8" fill="#b24c10"/>
<circle cx="345.55" cy="309.49" r="1.8" fill="#b24c10"/>
<circle cx="347.51" cy="309.84" r="1.8" fill="#b24c10"/>
<circle cx="349.68" cy="309.64" r="1.8" fill="#b24c10"/>
<circle cx="351.66" cy="309.87" r="1.8" fill="#b24c10"/>
<circle cx="336.45" cy="311.43" r="1.8" fill="#b24c10"/>
<circle cx="338.66" cy="311.25" r="1.8" fill="#b24c10"/>
<circle cx="340.52" cy="311.4" r="1.8" fill="#b24c10"/>
<circle cx="343.09" cy="311.09" r="1.8" fill="#b24c10"/>
<circle cx="345.51" cy="311.52" r="1.8" fill="#b24c10"/>
<circle cx="347.46" cy="311.04" r="1.8" fill="#b24c10"/>
<circle cx="349.67" cy="310.99" r="1.8" fill="#b24c10"/>
<circle cx="351.59" cy="311.24" r="1.8" fill="#b24c10"/>
<circle cx="338.5" cy="307.5" r="1.05" fill="none" stroke="#b24c10" stroke-width="1.1"/>
<circle cx="349.5" cy="308.5" r="1.05" fill="none" stroke="#b24c10" stroke-width="1.1"/>
<line x1="334.6" y1="310.2" x2="353.8" y2="310.2" stroke="#3a1505" stroke-width="1.1"/>
<rect x="363.4" y="307.4" width="10.5" height="4" rx="1.4" fill="#555"/>
<rect x="363.3" y="309.2" width="18.8" height="4.6" rx="1.9" fill="#555"/>
<line x1="363.5" y1="311.6" x2="381.9" y2="311.6" stroke="#2f2f2f" stroke-width="1"/>
<circle cx="249.44" cy="402.14" r="1.85" fill="#a8100f"/>
<circle cx="252.11" cy="401.74" r="1.85" fill="#a8100f"/>
<circle cx="254.49" cy="401.78" r="1.85" fill="#a8100f"/>
<circle cx="256.83" cy="402.48" r="1.85" fill="#a8100f"/>
<circle cx="258.86" cy="401.75" r="1.85" fill="#a8100f"/>
<circle cx="261.1" cy="402.08" r="1.85" fill="#a8100f"/>
<circle cx="263.8" cy="401.84" r="1.85" fill="#a8100f"/>
<circle cx="249.81" cy="404.1" r="1.85" fill="#a8100f"/>
<circle cx="252.07" cy="403.91" r="1.85" fill="#a8100f"/>
<circle cx="253.91" cy="404.08" r="1.85" fill="#a8100f"/>
<circle cx="256.59" cy="404.06" r="1.85" fill="#a8100f"/>
<circle cx="259.4" cy="403.27" r="1.85" fill="#a8100f"/>
<circle cx="261.66" cy="404.03" r="1.85" fill="#a8100f"/>
<circle cx="263.32" cy="403.45" r="1.85" fill="#a8100f"/>
<circle cx="249.31" cy="404.66" r="1.85" fill="#a8100f"/>
<circle cx="251.6" cy="404.77" r="1.85" fill="#a8100f"/>
<circle cx="253.68" cy="404.64" r="1.85" fill="#a8100f"/>
<circle cx="255.52" cy="405.42" r="1.85" fill="#a8100f"/>
<circle cx="257.39" cy="404.76" r="1.85" fill="#a8100f"/>
<circle cx="259.84" cy="404.82" r="1.85" fill="#a8100f"/>
<circle cx="261.53" cy="404.68" r="1.85" fill="#a8100f"/>
<circle cx="263.81" cy="405.44" r="1.85" fill="#a8100f"/>
<line x1="247" y1="403.2" x2="266.2" y2="403.2" stroke="#111" stroke-width="1.1"/>
<circle cx="285.7" cy="384.2" r="2.1" fill="none" stroke="#a8100f" stroke-width="1.1"/>
<circle cx="285.7" cy="390" r="2.1" fill="none" stroke="#a8100f" stroke-width="1.1"/>
<circle cx="285.7" cy="394.3" r="2.1" fill="none" stroke="#a8100f" stroke-width="1.1"/>
<circle cx="285.38" cy="398.4" r="1.25" fill="none" stroke="#a8100f" stroke-width="1.1"/>
<circle cx="284.45" cy="399.68" r="1.25" fill="none" stroke="#a8100f" stroke-width="1.1"/>
<circle cx="286.44" cy="399.43" r="1.25" fill="none" stroke="#a8100f" stroke-width="1.1"/>
<circle cx="284.5" cy="400.66" r="1.25" fill="none" stroke="#a8100f" stroke-width="1.1"/>
<circle cx="287.61" cy="400.86" r="1.25" fill="none" stroke="#a8100f" stroke-width="1.1"/>
<circle cx="283.83" cy="402.58" r="1.25" fill="none" stroke="#a8100f" stroke-width="1.1"/>
<circle cx="285.4" cy="402.69" r="1.25" fill="none" stroke="#a8100f" stroke-width="1.1"/>
<circle cx="287.98" cy="402.09" r="1.25" fill="none" stroke="#a8100f" stroke-width="1.1"/>
<circle cx="282.29" cy="403.36" r="1.25" fill="none" stroke="#a8100f" stroke-width="1.1"/>
<circle cx="284.38" cy="403.68" r="1.25" fill="none" stroke="#a8100f" stroke-width="1.1"/>
<circle cx="285.66" cy="403.86" r="1.25" fill="none" stroke="#a8100f" stroke-width="1.1"/>
<circle cx="287.65" cy="403.28" r="1.25" fill="none" stroke="#a8100f" stroke-width="1.1"/>
<circle cx="289.86" cy="403.15" r="1.25" fill="none" stroke="#a8100f" stroke-width="1.1"/>
<circle cx="280.55" cy="404.75" r="1.25" fill="none" stroke="#a8100f" stroke-width="1.1"/>
<circle cx="282.22" cy="405.48" r="1.25" fill="none" stroke="#a8100f" stroke-width="1.1"/>
<circle cx="284.03" cy="405.16" r="1.25" fill="none" stroke="#a8100f" stroke-width="1.1"/>
<circle cx="285.61" cy="404.5" r="1.25" fill="none" stroke="#a8100f" stroke-width="1.1"/>
<circle cx="287.19" cy="404.65" r="1.25" fill="none" stroke="#a8100f" stroke-width="1.1"/>
<circle cx="289.63" cy="404.93" r="1.25" fill="none" stroke="#a8100f" stroke-width="1.1"/>
<circle cx="291.38" cy="405.4" r="1.25" fill="none" stroke="#a8100f" stroke-width="1.1"/>
<circle cx="278.97" cy="406.13" r="1.25" fill="none" stroke="#a8100f" stroke-width="1.1"/>
<circle cx="281.34" cy="405.92" r="1.25" fill="none" stroke="#a8100f" stroke-width="1.1"/>
<circle cx="282.53" cy="406.25" r="1.25" fill="none" stroke="#a8100f" stroke-width="1.1"/>
<circle cx="284.48" cy="406.26" r="1.25" fill="none" stroke="#a8100f" stroke-width="1.1"/>
<circle cx="286.45" cy="406.48" r="1.25" fill="none" stroke="#a8100f" stroke-width="1.1"/>
<circle cx="288.66" cy="406.1" r="1.25" fill="none" stroke="#a8100f" stroke-width="1.1"/>
<circle cx="290.54" cy="406.37" r="1.25" fill="none" stroke="#a8100f" stroke-width="1.1"/>
<circle cx="291.9" cy="406.84" r="1.25" fill="none" stroke="#a8100f" stroke-width="1.1"/>
<circle cx="278.67" cy="407.45" r="1.25" fill="none" stroke="#a8100f" stroke-width="1.1"/>
<circle cx="280.49" cy="407.94" r="1.25" fill="none" stroke="#a8100f" stroke-width="1.1"/>
<circle cx="283.23" cy="408.08" r="1.25" fill="none" stroke="#a8100f" stroke-width="1.1"/>
<circle cx="284.72" cy="407.56" r="1.25" fill="none" stroke="#a8100f" stroke-width="1.1"/>
<circle cx="286.29" cy="407.94" r="1.25" fill="none" stroke="#a8100f" stroke-width="1.1"/>
<circle cx="288.81" cy="407.65" r="1.25" fill="none" stroke="#a8100f" stroke-width="1.1"/>
<circle cx="290.85" cy="407.74" r="1.25" fill="none" stroke="#a8100f" stroke-width="1.1"/>
<circle cx="293.11" cy="408.03" r="1.25" fill="none" stroke="#a8100f" stroke-width="1.1"/>
<circle cx="278.27" cy="409.6" r="1.25" fill="none" stroke="#a8100f" stroke-width="1.1"/>
<circle cx="279.89" cy="409.23" r="1.25" fill="none" stroke="#a8100f" stroke-width="1.1"/>
<circle cx="282.07" cy="408.94" r="1.25" fill="none" stroke="#a8100f" stroke-width="1.1"/>
<circle cx="283.54" cy="409.48" r="1.25" fill="none" stroke="#a8100f" stroke-width="1.1"/>
<circle cx="285.31" cy="409.25" r="1.25" fill="none" stroke="#a8100f" stroke-width="1.1"/>
<circle cx="288.06" cy="408.84" r="1.25" fill="none" stroke="#a8100f" stroke-width="1.1"/>
<circle cx="289.14" cy="409.31" r="1.25" fill="none" stroke="#a8100f" stroke-width="1.1"/>
<circle cx="291.26" cy="409.34" r="1.25" fill="none" stroke="#a8100f" stroke-width="1.1"/>
<circle cx="293.39" cy="408.87" r="1.25" fill="none" stroke="#a8100f" stroke-width="1.1"/>
<circle cx="277.93" cy="410.4" r="1.25" fill="none" stroke="#a8100f" stroke-width="1.1"/>
<circle cx="279.59" cy="410.99" r="1.25" fill="none" stroke="#a8100f" stroke-width="1.1"/>
<circle cx="282.24" cy="410.82" r="1.25" fill="none" stroke="#a8100f" stroke-width="1.1"/>
<circle cx="283.39" cy="410.94" r="1.25" fill="none" stroke="#a8100f" stroke-width="1.1"/>
<circle cx="286.05" cy="410.57" r="1.25" fill="none" stroke="#a8100f" stroke-width="1.1"/>
<circle cx="287.96" cy="410.55" r="1.25" fill="none" stroke="#a8100f" stroke-width="1.1"/>
<circle cx="289.37" cy="410.21" r="1.25" fill="none" stroke="#a8100f" stroke-width="1.1"/>
<circle cx="291.3" cy="410.14" r="1.25" fill="none" stroke="#a8100f" stroke-width="1.1"/>
<circle cx="293.32" cy="410.85" r="1.25" fill="none" stroke="#a8100f" stroke-width="1.1"/>
<line x1="276.2" y1="408" x2="295.4" y2="408" stroke="#111" stroke-width="1.1"/>
<circle cx="308.5" cy="404.4" r="1.7" fill="#b24c10"/>
<circle cx="312.5" cy="404.8" r="1.7" fill="#b24c10"/>
<circle cx="315.5" cy="404.3" r="1.7" fill="#b24c10"/>
<circle cx="319.5" cy="404.6" r="1.7" fill="#b24c10"/>
<circle cx="307.82" cy="405.81" r="1.7" fill="#b24c10"/>
<circle cx="310.26" cy="405.46" r="1.7" fill="#b24c10"/>
<circle cx="312.6" cy="405.56" r="1.7" fill="#b24c10"/>
<circle cx="315.17" cy="405.61" r="1.7" fill="#b24c10"/>
<circle cx="317.29" cy="405.69" r="1.7" fill="#b24c10"/>
<circle cx="320.15" cy="405.43" r="1.7" fill="#b24c10"/>
<circle cx="322.53" cy="405.31" r="1.7" fill="#b24c10"/>
<circle cx="307.26" cy="406.44" r="1.7" fill="#b24c10"/>
<circle cx="309.72" cy="406.87" r="1.7" fill="#b24c10"/>
<circle cx="311.89" cy="406.5" r="1.7" fill="#b24c10"/>
<circle cx="314.14" cy="406.5" r="1.7" fill="#b24c10"/>
<circle cx="315.93" cy="406.84" r="1.7" fill="#b24c10"/>
<circle cx="318.34" cy="406.72" r="1.7" fill="#b24c10"/>
<circle cx="320.53" cy="406.89" r="1.7" fill="#b24c10"/>
<circle cx="322.58" cy="406.8" r="1.7" fill="#b24c10"/>
<line x1="305.4" y1="406" x2="324.6" y2="406" stroke="#3a1505" stroke-width="1.1"/>
<circle cx="336.64" cy="409.85" r="1.7" fill="#b24c10"/>
<circle cx="338.66" cy="409.76" r="1.7" fill="#b24c10"/>
<circle cx="340.95" cy="409.47" r="1.7" fill="#b24c10"/>
<circle cx="342.9" cy="409.69" r="1.7" fill="#b24c10"/>
<circle cx="345" cy="409.89" r="1.7" fill="#b24c10"/>
<circle cx="347.25" cy="409.27" r="1.7" fill="#b24c10"/>
<circle cx="349.42" cy="409.9" r="1.7" fill="#b24c10"/>
<circle cx="351.79" cy="409.35" r="1.7" fill="#b24c10"/>
<circle cx="335.99" cy="410.78" r="1.7" fill="#b24c10"/>
<circle cx="338.71" cy="411.19" r="1.7" fill="#b24c10"/>
<circle cx="340.96" cy="411.27" r="1.7" fill="#b24c10"/>
<circle cx="342.77" cy="411.16" r="1.7" fill="#b24c10"/>
<circle cx="345.23" cy="411.32" r="1.7" fill="#b24c10"/>
<circle cx="347.8" cy="411.37" r="1.7" fill="#b24c10"/>
<circle cx="349.52" cy="411.36" r="1.7" fill="#b24c10"/>
<circle cx="352.37" cy="411.41" r="1.7" fill="#b24c10"/>
<circle cx="338.2" cy="408.4" r="1.05" fill="none" stroke="#b24c10" stroke-width="1.1"/>
<circle cx="341.2" cy="408.2" r="1.05" fill="none" stroke="#b24c10" stroke-width="1.1"/>
<line x1="334.6" y1="410.6" x2="353.8" y2="410.6" stroke="#3a1505" stroke-width="1.1"/>
<rect x="363.2" y="409.2" width="19.2" height="3.9" rx="1.8" fill="#4a4a4a"/>
<line x1="364.2" y1="411.1" x2="382.6" y2="411.1" stroke="#2a2a2a" stroke-width="1"/>
<circle cx="253.6" cy="495.8" r="2.05" fill="#a8100f"/>
<circle cx="256.4" cy="497.9" r="2.05" fill="#a8100f"/>
<circle cx="249.5" cy="503.4" r="2.05" fill="#a8100f"/>
<circle cx="252.9" cy="503" r="2.05" fill="#a8100f"/>
<circle cx="256.4" cy="503.4" r="2.05" fill="#a8100f"/>
<circle cx="259.8" cy="503" r="2.05" fill="#a8100f"/>
<circle cx="263.3" cy="503.6" r="2.05" fill="#a8100f"/>
<circle cx="259.1" cy="505.9" r="2.05" fill="#a8100f"/>
<line x1="247" y1="503.7" x2="266.2" y2="503.7" stroke="#111" stroke-width="1.1"/>
<circle cx="285.21" cy="486.91" r="1.45" fill="none" stroke="#a8100f" stroke-width="1.1"/>
<circle cx="284.24" cy="488.43" r="1.45" fill="none" stroke="#a8100f" stroke-width="1.1"/>
<circle cx="287.31" cy="489.21" r="1.45" fill="none" stroke="#a8100f" stroke-width="1.1"/>
<circle cx="283.8" cy="490.93" r="1.45" fill="none" stroke="#a8100f" stroke-width="1.1"/>
<circle cx="285.93" cy="490.39" r="1.45" fill="none" stroke="#a8100f" stroke-width="1.1"/>
<circle cx="287.53" cy="490.2" r="1.45" fill="none" stroke="#a8100f" stroke-width="1.1"/>
<circle cx="282.96" cy="492" r="1.45" fill="none" stroke="#a8100f" stroke-width="1.1"/>
<circle cx="285.62" cy="492.22" r="1.45" fill="none" stroke="#a8100f" stroke-width="1.1"/>
<circle cx="288.42" cy="492.06" r="1.45" fill="none" stroke="#a8100f" stroke-width="1.1"/>
<circle cx="281.54" cy="494.22" r="1.45" fill="none" stroke="#a8100f" stroke-width="1.1"/>
<circle cx="284.32" cy="493.82" r="1.45" fill="none" stroke="#a8100f" stroke-width="1.1"/>
<circle cx="287.61" cy="494" r="1.45" fill="none" stroke="#a8100f" stroke-width="1.1"/>
<circle cx="290.19" cy="494.12" r="1.45" fill="none" stroke="#a8100f" stroke-width="1.1"/>
<circle cx="280.37" cy="495.61" r="1.45" fill="none" stroke="#a8100f" stroke-width="1.1"/>
<circle cx="283.26" cy="495.97" r="1.45" fill="none" stroke="#a8100f" stroke-width="1.1"/>
<circle cx="285.65" cy="495.9" r="1.45" fill="none" stroke="#a8100f" stroke-width="1.1"/>
<circle cx="288.32" cy="495.42" r="1.45" fill="none" stroke="#a8100f" stroke-width="1.1"/>
<circle cx="291.12" cy="495.29" r="1.45" fill="none" stroke="#a8100f" stroke-width="1.1"/>
<circle cx="280.25" cy="497.07" r="1.45" fill="none" stroke="#a8100f" stroke-width="1.1"/>
<circle cx="281.78" cy="497.1" r="1.45" fill="none" stroke="#a8100f" stroke-width="1.1"/>
<circle cx="284.89" cy="497.88" r="1.45" fill="none" stroke="#a8100f" stroke-width="1.1"/>
<circle cx="286.48" cy="497.39" r="1.45" fill="none" stroke="#a8100f" stroke-width="1.1"/>
<circle cx="289.32" cy="497.7" r="1.45" fill="none" stroke="#a8100f" stroke-width="1.1"/>
<circle cx="291.36" cy="497.39" r="1.45" fill="none" stroke="#a8100f" stroke-width="1.1"/>
<circle cx="278.86" cy="499.43" r="1.45" fill="none" stroke="#a8100f" stroke-width="1.1"/>
<circle cx="281.03" cy="499.54" r="1.45" fill="none" stroke="#a8100f" stroke-width="1.1"/>
<circle cx="283.32" cy="498.81" r="1.45" fill="none" stroke="#a8100f" stroke-width="1.1"/>
<circle cx="286" cy="499.1" r="1.45" fill="none" stroke="#a8100f" stroke-width="1.1"/>
<circle cx="287.67" cy="499.24" r="1.45" fill="none" stroke="#a8100f" stroke-width="1.1"/>
<circle cx="289.91" cy="499.39" r="1.45" fill="none" stroke="#a8100f" stroke-width="1.1"/>
<circle cx="292.79" cy="499.39" r="1.45" fill="none" stroke="#a8100f" stroke-width="1.1"/>
<circle cx="278.41" cy="500.66" r="1.45" fill="none" stroke="#a8100f" stroke-width="1.1"/>
<circle cx="280.33" cy="500.69" r="1.45" fill="none" stroke="#a8100f" stroke-width="1.1"/>
<circle cx="282.97" cy="500.39" r="1.45" fill="none" stroke="#a8100f" stroke-width="1.1"/>
<circle cx="285.11" cy="500.33" r="1.45" fill="none" stroke="#a8100f" stroke-width="1.1"/>
<circle cx="286.58" cy="500.56" r="1.45" fill="none" stroke="#a8100f" stroke-width="1.1"/>
<circle cx="289.43" cy="500.8" r="1.45" fill="none" stroke="#a8100f" stroke-width="1.1"/>
<circle cx="291.05" cy="501.18" r="1.45" fill="none" stroke="#a8100f" stroke-width="1.1"/>
<circle cx="293.06" cy="500.76" r="1.45" fill="none" stroke="#a8100f" stroke-width="1.1"/>
<circle cx="278.97" cy="502.75" r="1.45" fill="none" stroke="#a8100f" stroke-width="1.1"/>
<circle cx="281.48" cy="502.65" r="1.45" fill="none" stroke="#a8100f" stroke-width="1.1"/>
<circle cx="283.36" cy="502.33" r="1.45" fill="none" stroke="#a8100f" stroke-width="1.1"/>
<circle cx="285.46" cy="502.84" r="1.45" fill="none" stroke="#a8100f" stroke-width="1.1"/>
<circle cx="288.25" cy="502.74" r="1.45" fill="none" stroke="#a8100f" stroke-width="1.1"/>
<circle cx="290.04" cy="502.44" r="1.45" fill="none" stroke="#a8100f" stroke-width="1.1"/>
<circle cx="292.93" cy="502.58" r="1.45" fill="none" stroke="#a8100f" stroke-width="1.1"/>
<circle cx="279.23" cy="504.16" r="1.45" fill="none" stroke="#a8100f" stroke-width="1.1"/>
<circle cx="282.47" cy="503.94" r="1.45" fill="none" stroke="#a8100f" stroke-width="1.1"/>
<circle cx="284.25" cy="504" r="1.45" fill="none" stroke="#a8100f" stroke-width="1.1"/>
<circle cx="287.24" cy="504.54" r="1.45" fill="none" stroke="#a8100f" stroke-width="1.1"/>
<circle cx="289.17" cy="503.86" r="1.45" fill="none" stroke="#a8100f" stroke-width="1.1"/>
<circle cx="291.75" cy="504.03" r="1.45" fill="none" stroke="#a8100f" stroke-width="1.1"/>
<circle cx="280.28" cy="505.56" r="1.45" fill="none" stroke="#a8100f" stroke-width="1.1"/>
<circle cx="282.3" cy="505.59" r="1.45" fill="none" stroke="#a8100f" stroke-width="1.1"/>
<circle cx="285.17" cy="506.13" r="1.45" fill="none" stroke="#a8100f" stroke-width="1.1"/>
<circle cx="286.51" cy="506.36" r="1.45" fill="none" stroke="#a8100f" stroke-width="1.1"/>
<circle cx="288.72" cy="505.78" r="1.45" fill="none" stroke="#a8100f" stroke-width="1.1"/>
<circle cx="291.82" cy="506.19" r="1.45" fill="none" stroke="#a8100f" stroke-width="1.1"/>
<circle cx="281.96" cy="507.53" r="1.45" fill="none" stroke="#a8100f" stroke-width="1.1"/>
<circle cx="284.14" cy="507.74" r="1.45" fill="none" stroke="#a8100f" stroke-width="1.1"/>
<circle cx="286.77" cy="507.31" r="1.45" fill="none" stroke="#a8100f" stroke-width="1.1"/>
<circle cx="289.77" cy="507.13" r="1.45" fill="none" stroke="#a8100f" stroke-width="1.1"/>
<circle cx="283.13" cy="509.59" r="1.45" fill="none" stroke="#a8100f" stroke-width="1.1"/>
<circle cx="285.99" cy="509.3" r="1.45" fill="none" stroke="#a8100f" stroke-width="1.1"/>
<circle cx="288.5" cy="509.26" r="1.45" fill="none" stroke="#a8100f" stroke-width="1.1"/>
<line x1="276.2" y1="501.2" x2="295.4" y2="501.2" stroke="#111" stroke-width="1.1"/>
<circle cx="314.8" cy="496.8" r="2" fill="#b24c10"/>
<circle cx="307" cy="504.8" r="2" fill="#b24c10"/>
<circle cx="310.8" cy="502.2" r="2" fill="#b24c10"/>
<circle cx="314.8" cy="503.7" r="2" fill="#b24c10"/>
<circle cx="318.8" cy="502.5" r="2" fill="#b24c10"/>
<circle cx="322.2" cy="505.1" r="2" fill="#b24c10"/>
<line x1="305.4" y1="503.4" x2="324.6" y2="503.4" stroke="#3a1505" stroke-width="1.1"/>
<circle cx="342.77" cy="494.72" r="1.45" fill="none" stroke="#b24c10" stroke-width="1.1"/>
<circle cx="345.09" cy="494.89" r="1.45" fill="none" stroke="#b24c10" stroke-width="1.1"/>
<circle cx="341.36" cy="496.12" r="1.45" fill="none" stroke="#b24c10" stroke-width="1.1"/>
<circle cx="343.18" cy="496.5" r="1.45" fill="none" stroke="#b24c10" stroke-width="1.1"/>
<circle cx="345.22" cy="495.87" r="1.45" fill="none" stroke="#b24c10" stroke-width="1.1"/>
<circle cx="347.8" cy="496.66" r="1.45" fill="none" stroke="#b24c10" stroke-width="1.1"/>
<circle cx="339.36" cy="498.04" r="1.45" fill="none" stroke="#b24c10" stroke-width="1.1"/>
<circle cx="341.52" cy="498.02" r="1.45" fill="none" stroke="#b24c10" stroke-width="1.1"/>
<circle cx="343.34" cy="497.74" r="1.45" fill="none" stroke="#b24c10" stroke-width="1.1"/>
<circle cx="345.01" cy="497.95" r="1.45" fill="none" stroke="#b24c10" stroke-width="1.1"/>
<circle cx="346.82" cy="497.7" r="1.45" fill="none" stroke="#b24c10" stroke-width="1.1"/>
<circle cx="349.71" cy="498.06" r="1.45" fill="none" stroke="#b24c10" stroke-width="1.1"/>
<circle cx="337.86" cy="499.1" r="1.45" fill="none" stroke="#b24c10" stroke-width="1.1"/>
<circle cx="339.77" cy="499.35" r="1.45" fill="none" stroke="#b24c10" stroke-width="1.1"/>
<circle cx="342.18" cy="499.29" r="1.45" fill="none" stroke="#b24c10" stroke-width="1.1"/>
<circle cx="344.41" cy="499.92" r="1.45" fill="none" stroke="#b24c10" stroke-width="1.1"/>
<circle cx="345.99" cy="499.59" r="1.45" fill="none" stroke="#b24c10" stroke-width="1.1"/>
<circle cx="348.87" cy="499.27" r="1.45" fill="none" stroke="#b24c10" stroke-width="1.1"/>
<circle cx="350.69" cy="499.97" r="1.45" fill="none" stroke="#b24c10" stroke-width="1.1"/>
<circle cx="336.5" cy="501.05" r="1.45" fill="none" stroke="#b24c10" stroke-width="1.1"/>
<circle cx="338.69" cy="501.34" r="1.45" fill="none" stroke="#b24c10" stroke-width="1.1"/>
<circle cx="341.66" cy="501.02" r="1.45" fill="none" stroke="#b24c10" stroke-width="1.1"/>
<circle cx="342.7" cy="501.09" r="1.45" fill="none" stroke="#b24c10" stroke-width="1.1"/>
<circle cx="345.27" cy="501.26" r="1.45" fill="none" stroke="#b24c10" stroke-width="1.1"/>
<circle cx="347.28" cy="501.17" r="1.45" fill="none" stroke="#b24c10" stroke-width="1.1"/>
<circle cx="349.7" cy="501.03" r="1.45" fill="none" stroke="#b24c10" stroke-width="1.1"/>
<circle cx="351.24" cy="501.54" r="1.45" fill="none" stroke="#b24c10" stroke-width="1.1"/>
<circle cx="336.46" cy="502.82" r="1.45" fill="none" stroke="#b24c10" stroke-width="1.1"/>
<circle cx="338.79" cy="502.92" r="1.45" fill="none" stroke="#b24c10" stroke-width="1.1"/>
<circle cx="340.58" cy="503.18" r="1.45" fill="none" stroke="#b24c10" stroke-width="1.1"/>
<circle cx="342.97" cy="502.07" r="1.45" fill="none" stroke="#b24c10" stroke-width="1.1"/>
<circle cx="344.98" cy="502.48" r="1.45" fill="none" stroke="#b24c10" stroke-width="1.1"/>
<circle cx="346.78" cy="502.5" r="1.45" fill="none" stroke="#b24c10" stroke-width="1.1"/>
<circle cx="349.38" cy="502.84" r="1.45" fill="none" stroke="#b24c10" stroke-width="1.1"/>
<circle cx="351.41" cy="502.32" r="1.45" fill="none" stroke="#b24c10" stroke-width="1.1"/>
<circle cx="336.34" cy="504.49" r="1.45" fill="none" stroke="#b24c10" stroke-width="1.1"/>
<circle cx="339.35" cy="504.23" r="1.45" fill="none" stroke="#b24c10" stroke-width="1.1"/>
<circle cx="340.64" cy="504.56" r="1.45" fill="none" stroke="#b24c10" stroke-width="1.1"/>
<circle cx="343" cy="503.85" r="1.45" fill="none" stroke="#b24c10" stroke-width="1.1"/>
<circle cx="344.83" cy="504.53" r="1.45" fill="none" stroke="#b24c10" stroke-width="1.1"/>
<circle cx="347.8" cy="504.36" r="1.45" fill="none" stroke="#b24c10" stroke-width="1.1"/>
<circle cx="349.54" cy="504.27" r="1.45" fill="none" stroke="#b24c10" stroke-width="1.1"/>
<circle cx="351.4" cy="504.76" r="1.45" fill="none" stroke="#b24c10" stroke-width="1.1"/>
<circle cx="337.08" cy="505.97" r="1.45" fill="none" stroke="#b24c10" stroke-width="1.1"/>
<circle cx="339.96" cy="506.18" r="1.45" fill="none" stroke="#b24c10" stroke-width="1.1"/>
<circle cx="341.85" cy="505.55" r="1.45" fill="none" stroke="#b24c10" stroke-width="1.1"/>
<circle cx="344.26" cy="505.35" r="1.45" fill="none" stroke="#b24c10" stroke-width="1.1"/>
<circle cx="346.91" cy="505.63" r="1.45" fill="none" stroke="#b24c10" stroke-width="1.1"/>
<circle cx="349.25" cy="505.52" r="1.45" fill="none" stroke="#b24c10" stroke-width="1.1"/>
<circle cx="350.99" cy="505.5" r="1.45" fill="none" stroke="#b24c10" stroke-width="1.1"/>
<circle cx="337.94" cy="507.02" r="1.45" fill="none" stroke="#b24c10" stroke-width="1.1"/>
<circle cx="339.49" cy="507.67" r="1.45" fill="none" stroke="#b24c10" stroke-width="1.1"/>
<circle cx="341.88" cy="507.09" r="1.45" fill="none" stroke="#b24c10" stroke-width="1.1"/>
<circle cx="343.96" cy="507.38" r="1.45" fill="none" stroke="#b24c10" stroke-width="1.1"/>
<circle cx="346.17" cy="507.56" r="1.45" fill="none" stroke="#b24c10" stroke-width="1.1"/>
<circle cx="348.5" cy="507.23" r="1.45" fill="none" stroke="#b24c10" stroke-width="1.1"/>
<circle cx="350.88" cy="507.83" r="1.45" fill="none" stroke="#b24c10" stroke-width="1.1"/>
<circle cx="338.84" cy="509.39" r="1.45" fill="none" stroke="#b24c10" stroke-width="1.1"/>
<circle cx="342.27" cy="509.34" r="1.45" fill="none" stroke="#b24c10" stroke-width="1.1"/>
<circle cx="343.77" cy="509.4" r="1.45" fill="none" stroke="#b24c10" stroke-width="1.1"/>
<circle cx="346.78" cy="508.42" r="1.45" fill="none" stroke="#b24c10" stroke-width="1.1"/>
<circle cx="348.45" cy="509.54" r="1.45" fill="none" stroke="#b24c10" stroke-width="1.1"/>
<circle cx="343.3" cy="494.4" r="1.85" fill="none" stroke="#b24c10" stroke-width="1.1"/>
<line x1="334.6" y1="504" x2="353.8" y2="504" stroke="#3a1505" stroke-width="1.1"/>
<rect x="362.9" y="509.0" width="19.1" height="3.9" rx="1.8" fill="#4a4a4a"/>
<line x1="364.2" y1="510.9" x2="382.6" y2="510.9" stroke="#2a2a2a" stroke-width="1"/>
</svg></body></html>
